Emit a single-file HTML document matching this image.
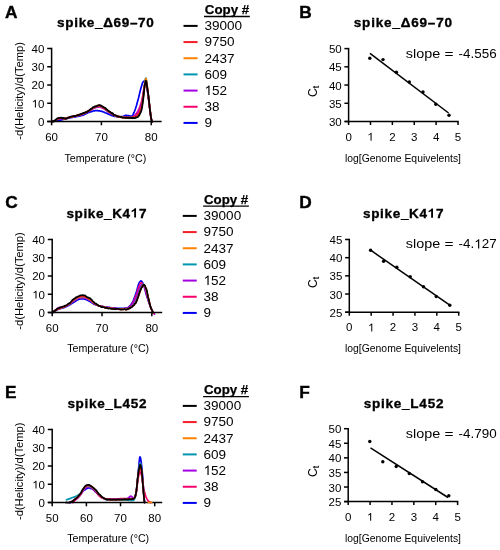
<!DOCTYPE html><html><head><meta charset="utf-8"><style>html,body{margin:0;padding:0;background:#fff;}svg{display:block;will-change:transform;}</style></head><body>
<svg width="500" height="550" viewBox="0 0 500 550" font-family='"Liberation Sans", sans-serif' fill="#000">
<rect width="500" height="550" fill="#fff"/>
<text x="4.90" y="18.00" font-size="17.3" font-weight="bold" text-anchor="start" stroke="#000" stroke-width="0.4">A</text>
<text x="57.10 65.28 74.20 78.63 86.81 95.00 103.18 113.56 121.74 129.93 138.11 146.29" y="27.00" font-size="13.5" font-weight="bold" stroke="#000" stroke-width="0.35">spike_Δ69–70</text>
<path d="M53.0,121.6 L53.5,121.5 L54.0,121.4 L54.5,121.3 L55.0,121.2 L55.5,121.1 L56.0,121.0 L56.5,120.9 L57.0,120.8 L57.5,120.7 L58.0,120.6 L58.5,120.5 L59.0,120.4 L59.5,120.3 L60.0,120.2 L60.5,120.1 L61.0,120.0 L61.5,119.9 L62.0,119.7 L62.5,119.6 L63.0,119.5 L63.5,119.4 L64.0,119.3 L64.5,119.1 L65.0,119.0 L65.5,118.9 L66.0,118.8 L66.5,118.6 L67.0,118.5 L67.5,118.4 L68.0,118.3 L68.5,118.1 L69.0,118.0 L69.5,117.9 L70.0,117.8 L70.5,117.7 L71.0,117.6 L71.5,117.5 L72.0,117.4 L72.5,117.3 L73.0,117.2 L73.5,117.1 L74.0,117.0 L74.5,116.9 L75.0,116.9 L75.5,116.8 L76.0,116.7 L76.5,116.6 L77.0,116.5 L77.5,116.4 L78.0,116.3 L78.5,116.2 L79.0,116.1 L79.5,116.0 L80.0,115.9 L80.5,115.8 L81.0,115.7 L81.5,115.5 L82.0,115.4 L82.5,115.2 L83.0,115.1 L83.5,114.9 L84.0,114.7 L84.5,114.4 L85.0,114.2 L85.5,114.0 L86.0,113.7 L86.5,113.5 L87.0,113.2 L87.5,113.0 L88.0,112.7 L88.5,112.5 L89.0,112.3 L89.5,112.2 L90.0,112.0 L90.5,111.9 L91.0,111.7 L91.5,111.6 L92.0,111.4 L92.5,111.3 L93.0,111.1 L93.5,111.0 L94.0,110.9 L94.5,110.8 L95.0,110.7 L95.5,110.6 L96.0,110.6 L96.5,110.6 L97.0,110.6 L97.5,110.6 L98.0,110.7 L98.5,110.8 L99.0,110.8 L99.5,110.9 L100.0,111.0 L100.5,111.1 L101.0,111.2 L101.5,111.3 L102.0,111.4 L102.5,111.6 L103.0,111.8 L103.5,112.0 L104.0,112.2 L104.5,112.4 L105.0,112.6 L105.5,112.8 L106.0,113.0 L106.5,113.2 L107.0,113.4 L107.5,113.6 L108.0,113.9 L108.5,114.1 L109.0,114.3 L109.5,114.6 L110.0,114.8 L110.5,115.0 L111.0,115.2 L111.5,115.5 L112.0,115.6 L112.5,115.8 L113.0,116.0 L113.5,116.1 L114.0,116.2 L114.5,116.3 L115.0,116.4 L115.5,116.5 L116.0,116.5 L116.5,116.6 L117.0,116.7 L117.5,116.7 L118.0,116.8 L118.5,116.8 L119.0,116.9 L119.5,116.9 L120.0,116.9 L120.5,116.9 L121.0,116.8 L121.5,116.7 L122.0,116.6 L122.5,116.5 L123.0,116.4 L123.5,116.2 L124.0,116.0 L124.5,115.7 L125.0,115.5 L125.5,115.4 L126.0,115.4 L126.5,115.4 L127.0,115.5 L127.5,115.5 L128.0,115.6 L128.5,115.7 L129.0,115.8 L129.5,115.9 L130.0,116.0 L130.5,116.0 L131.0,116.0 L131.5,116.0 L132.0,116.0 L132.5,115.6 L133.0,114.6 L133.5,113.5 L134.0,112.5 L134.5,111.3 L135.0,110.0 L135.5,108.6 L136.0,107.0 L136.5,105.4 L137.0,103.6 L137.5,101.8 L138.0,100.0 L138.5,98.1 L139.0,96.0 L139.5,93.9 L140.0,91.8 L140.5,89.8 L141.0,88.0 L141.5,86.2 L142.0,84.4 L142.5,82.9 L143.0,82.0 L143.5,81.5 L144.0,81.1 L144.5,81.0 L145.0,81.3 L145.5,82.2 L146.0,83.5 L146.5,85.0 L147.0,87.5 L147.5,91.2 L148.0,95.0 L148.5,98.7 L149.0,102.5 L149.5,106.3 L150.0,110.0 L150.5,113.9 L151.0,117.6 L151.5,120.0 L152.0,121.1 L152.5,121.6" fill="none" stroke="#0000f0" stroke-width="1.7" stroke-linejoin="round" stroke-linecap="round"/>
<path d="M52.0,121.6 L52.5,121.5 L53.0,121.4 L53.5,121.3 L54.0,121.1 L54.5,120.9 L55.0,120.7 L55.5,120.4 L56.0,120.0 L56.5,119.7 L57.0,119.3 L57.5,119.1 L58.0,119.0 L58.5,118.9 L59.0,118.8 L59.5,118.7 L60.0,118.6 L60.5,118.5 L61.0,118.5 L61.5,118.4 L62.0,118.4 L62.5,118.4 L63.0,118.5 L63.5,118.7 L64.0,118.8 L64.5,118.9 L65.0,118.9 L65.5,118.7 L66.0,118.6 L66.5,118.4 L67.0,118.2 L67.5,118.0 L68.0,117.8 L68.5,117.7 L69.0,117.5 L69.5,117.4 L70.0,117.3 L70.5,117.2 L71.0,117.1 L71.5,117.0 L72.0,116.9 L72.5,116.8 L73.0,116.7 L73.5,116.6 L74.0,116.5 L74.5,116.3 L75.0,116.2 L75.5,116.1 L76.0,116.0 L76.5,115.8 L77.0,115.7 L77.5,115.6 L78.0,115.5 L78.5,115.3 L79.0,115.2 L79.5,115.0 L80.0,114.9 L80.5,114.8 L81.0,114.6 L81.5,114.4 L82.0,114.3 L82.5,114.1 L83.0,113.9 L83.5,113.7 L84.0,113.5 L84.5,113.3 L85.0,113.1 L85.5,112.9 L86.0,112.7 L86.5,112.4 L87.0,112.1 L87.5,111.9 L88.0,111.6 L88.5,111.3 L89.0,111.0 L89.5,110.7 L90.0,110.5 L90.5,110.2 L91.0,109.9 L91.5,109.6 L92.0,109.3 L92.5,109.0 L93.0,108.7 L93.5,108.4 L94.0,108.2 L94.5,108.0 L95.0,107.8 L95.5,107.6 L96.0,107.4 L96.5,107.3 L97.0,107.1 L97.5,107.0 L98.0,107.0 L98.5,106.9 L99.0,107.0 L99.5,107.0 L100.0,107.1 L100.5,107.3 L101.0,107.4 L101.5,107.6 L102.0,107.8 L102.5,108.0 L103.0,108.2 L103.5,108.5 L104.0,108.7 L104.5,109.1 L105.0,109.4 L105.5,109.7 L106.0,110.1 L106.5,110.4 L107.0,110.8 L107.5,111.2 L108.0,111.5 L108.5,111.9 L109.0,112.2 L109.5,112.5 L110.0,112.8 L110.5,113.1 L111.0,113.4 L111.5,113.7 L112.0,114.0 L112.5,114.3 L113.0,114.6 L113.5,114.9 L114.0,115.1 L114.5,115.4 L115.0,115.6 L115.5,115.8 L116.0,116.0 L116.5,116.2 L117.0,116.3 L117.5,116.4 L118.0,116.5 L118.5,116.7 L119.0,116.8 L119.5,116.9 L120.0,117.0 L120.5,117.0 L121.0,117.1 L121.5,117.1 L122.0,117.2 L122.5,117.2 L123.0,117.2 L123.5,117.2 L124.0,117.1 L124.5,117.1 L125.0,117.0 L125.5,117.0 L126.0,117.0 L126.5,117.1 L127.0,117.1 L127.5,117.1 L128.0,117.1 L128.5,117.2 L129.0,117.2 L129.5,117.3 L130.0,117.3 L130.5,117.3 L131.0,117.3 L131.5,117.3 L132.0,117.3 L132.5,117.2 L133.0,116.8 L133.5,116.4 L134.0,116.0 L134.5,115.6 L135.0,115.1 L135.5,114.5 L136.0,113.9 L136.5,113.3 L137.0,112.5 L137.5,111.8 L138.0,111.0 L138.5,110.0 L139.0,108.9 L139.5,107.6 L140.0,106.3 L140.5,104.8 L141.0,103.3 L141.5,101.5 L142.0,99.5 L142.5,96.8 L143.0,93.9 L143.5,91.2 L144.0,88.0 L144.5,85.1 L145.0,83.2 L145.5,81.8 L146.0,81.8 L146.5,83.5 L147.0,86.5 L147.5,90.0 L148.0,93.7 L148.5,97.6 L149.0,101.7 L149.5,106.0 L150.0,110.0 L150.5,114.0 L151.0,117.7 L151.5,120.0 L152.0,121.1 L152.5,121.6" fill="none" stroke="#f5006e" stroke-width="1.7" stroke-linejoin="round" stroke-linecap="round"/>
<path d="M52.0,121.5 L52.5,121.3 L53.0,121.3 L53.5,121.3 L54.0,121.2 L54.5,120.9 L55.0,120.6 L55.5,120.3 L56.0,120.1 L56.5,119.8 L57.0,119.3 L57.5,118.8 L58.0,118.8 L58.5,118.9 L59.0,118.7 L59.5,118.4 L60.0,118.4 L60.5,118.3 L61.0,118.2 L61.5,118.2 L62.0,118.2 L62.5,118.3 L63.0,118.4 L63.5,118.6 L64.0,118.8 L64.5,118.9 L65.0,118.7 L65.5,118.6 L66.0,118.4 L66.5,118.2 L67.0,118.0 L67.5,117.9 L68.0,117.7 L68.5,117.5 L69.0,117.4 L69.5,117.2 L70.0,117.1 L70.5,117.0 L71.0,117.0 L71.5,116.9 L72.0,116.9 L72.5,116.8 L73.0,116.5 L73.5,116.4 L74.0,116.3 L74.5,116.2 L75.0,116.1 L75.5,115.8 L76.0,115.8 L76.5,115.8 L77.0,115.7 L77.5,115.5 L78.0,115.4 L78.5,115.2 L79.0,115.0 L79.5,114.9 L80.0,115.0 L80.5,114.9 L81.0,114.8 L81.5,114.6 L82.0,114.4 L82.5,114.1 L83.0,113.8 L83.5,113.7 L84.0,113.6 L84.5,113.3 L85.0,113.0 L85.5,112.9 L86.0,112.6 L86.5,112.3 L87.0,112.0 L87.5,111.8 L88.0,111.5 L88.5,111.2 L89.0,110.9 L89.5,110.5 L90.0,110.1 L90.5,109.9 L91.0,109.8 L91.5,109.4 L92.0,109.0 L92.5,108.7 L93.0,108.5 L93.5,108.1 L94.0,107.8 L94.5,107.7 L95.0,107.5 L95.5,107.3 L96.0,107.2 L96.5,107.0 L97.0,106.9 L97.5,106.9 L98.0,106.7 L98.5,106.4 L99.0,106.4 L99.5,106.6 L100.0,106.8 L100.5,107.0 L101.0,107.1 L101.5,107.2 L102.0,107.4 L102.5,107.7 L103.0,107.9 L103.5,108.2 L104.0,108.6 L104.5,109.0 L105.0,109.2 L105.5,109.5 L106.0,110.0 L106.5,110.3 L107.0,110.6 L107.5,111.0 L108.0,111.4 L108.5,111.6 L109.0,111.9 L109.5,112.2 L110.0,112.7 L110.5,113.1 L111.0,113.3 L111.5,113.7 L112.0,114.1 L112.5,114.2 L113.0,114.5 L113.5,114.7 L114.0,114.9 L114.5,115.1 L115.0,115.5 L115.5,115.8 L116.0,115.9 L116.5,116.1 L117.0,116.4 L117.5,116.5 L118.0,116.7 L118.5,116.8 L119.0,116.9 L119.5,117.1 L120.0,117.1 L120.5,117.1 L121.0,117.1 L121.5,117.1 L122.0,117.2 L122.5,117.3 L123.0,117.5 L123.5,117.5 L124.0,117.3 L124.5,117.2 L125.0,117.4 L125.5,117.4 L126.0,117.2 L126.5,117.3 L127.0,117.3 L127.5,117.1 L128.0,117.2 L128.5,117.4 L129.0,117.5 L129.5,117.5 L130.0,117.4 L130.5,117.4 L131.0,117.4 L131.5,117.4 L132.0,117.5 L132.5,117.5 L133.0,117.2 L133.5,116.7 L134.0,116.4 L134.5,116.1 L135.0,115.7 L135.5,115.2 L136.0,114.9 L136.5,114.6 L137.0,114.0 L137.5,113.3 L138.0,112.7 L138.5,111.9 L139.0,110.6 L139.5,109.5 L140.0,108.4 L140.5,107.2 L141.0,105.6 L141.5,103.8 L142.0,101.8 L142.5,99.2 L143.0,96.1 L143.5,92.6 L144.0,89.0 L144.5,85.9 L145.0,83.5 L145.5,81.7 L146.0,81.5 L146.5,83.4 L147.0,86.5 L147.5,89.8 L148.0,93.5 L148.5,97.4 L149.0,101.8 L149.5,106.2 L150.0,110.0 L150.5,113.8 L151.0,117.6 L151.5,120.1 L152.0,121.0 L152.5,121.4" fill="none" stroke="#a400e4" stroke-width="1.7" stroke-linejoin="round" stroke-linecap="round"/>
<path d="M52.0,121.7 L52.5,121.4 L53.0,121.3 L53.5,121.1 L54.0,120.9 L54.5,120.7 L55.0,120.4 L55.5,120.1 L56.0,119.9 L56.5,119.6 L57.0,119.1 L57.5,118.7 L58.0,118.5 L58.5,118.3 L59.0,118.2 L59.5,118.2 L60.0,118.2 L60.5,118.2 L61.0,118.2 L61.5,118.1 L62.0,118.1 L62.5,118.3 L63.0,118.4 L63.5,118.4 L64.0,118.7 L64.5,119.0 L65.0,119.0 L65.5,118.8 L66.0,118.5 L66.5,118.4 L67.0,118.0 L67.5,117.8 L68.0,117.8 L68.5,117.6 L69.0,117.5 L69.5,117.2 L70.0,117.0 L70.5,117.0 L71.0,116.8 L71.5,116.7 L72.0,116.7 L72.5,116.7 L73.0,116.5 L73.5,116.3 L74.0,116.2 L74.5,116.2 L75.0,116.2 L75.5,116.1 L76.0,115.9 L76.5,115.8 L77.0,115.5 L77.5,115.3 L78.0,115.3 L78.5,115.2 L79.0,114.9 L79.5,114.7 L80.0,114.5 L80.5,114.3 L81.0,114.3 L81.5,114.2 L82.0,113.9 L82.5,113.7 L83.0,113.6 L83.5,113.4 L84.0,113.0 L84.5,112.9 L85.0,112.9 L85.5,112.7 L86.0,112.2 L86.5,112.0 L87.0,111.8 L87.5,111.6 L88.0,111.3 L88.5,111.0 L89.0,110.6 L89.5,110.3 L90.0,110.2 L90.5,109.8 L91.0,109.3 L91.5,109.0 L92.0,108.9 L92.5,108.6 L93.0,108.2 L93.5,107.9 L94.0,107.5 L94.5,107.1 L95.0,106.9 L95.5,106.8 L96.0,106.6 L96.5,106.3 L97.0,106.1 L97.5,106.1 L98.0,106.1 L98.5,106.0 L99.0,105.8 L99.5,105.8 L100.0,106.1 L100.5,106.4 L101.0,106.6 L101.5,106.7 L102.0,106.9 L102.5,107.1 L103.0,107.3 L103.5,107.6 L104.0,107.8 L104.5,108.2 L105.0,108.6 L105.5,109.0 L106.0,109.5 L106.5,110.1 L107.0,110.5 L107.5,110.6 L108.0,110.8 L108.5,111.1 L109.0,111.6 L109.5,111.9 L110.0,112.1 L110.5,112.7 L111.0,113.1 L111.5,113.2 L112.0,113.4 L112.5,113.8 L113.0,114.3 L113.5,114.7 L114.0,115.1 L114.5,115.3 L115.0,115.5 L115.5,115.8 L116.0,116.1 L116.5,116.3 L117.0,116.3 L117.5,116.3 L118.0,116.4 L118.5,116.6 L119.0,116.9 L119.5,117.0 L120.0,116.9 L120.5,117.0 L121.0,117.2 L121.5,117.2 L122.0,117.2 L122.5,117.5 L123.0,117.7 L123.5,117.6 L124.0,117.4 L124.5,117.3 L125.0,117.4 L125.5,117.6 L126.0,117.7 L126.5,117.7 L127.0,117.7 L127.5,117.7 L128.0,117.6 L128.5,117.5 L129.0,117.6 L129.5,117.7 L130.0,117.7 L130.5,117.7 L131.0,117.7 L131.5,117.8 L132.0,117.8 L132.5,117.7 L133.0,117.6 L133.5,117.6 L134.0,117.5 L134.5,117.3 L135.0,116.9 L135.5,116.7 L136.0,116.5 L136.5,116.3 L137.0,116.1 L137.5,115.7 L138.0,115.3 L138.5,114.7 L139.0,113.9 L139.5,112.9 L140.0,111.8 L140.5,110.6 L141.0,109.2 L141.5,107.6 L142.0,105.5 L142.5,102.4 L143.0,98.5 L143.5,94.6 L144.0,90.0 L144.5,85.4 L145.0,81.6 L145.5,78.6 L146.0,78.1 L146.5,80.6 L147.0,84.7 L147.5,88.8 L148.0,92.9 L148.5,96.9 L149.0,101.2 L149.5,105.7 L150.0,110.0 L150.5,114.1 L151.0,117.8 L151.5,120.2 L152.0,121.3 L152.5,121.7" fill="none" stroke="#0096b0" stroke-width="1.7" stroke-linejoin="round" stroke-linecap="round"/>
<path d="M52.0,121.5 L52.5,121.5 L53.0,121.6 L53.5,121.3 L54.0,120.9 L54.5,120.7 L55.0,120.5 L55.5,120.1 L56.0,119.6 L56.5,119.2 L57.0,119.0 L57.5,118.8 L58.0,118.6 L58.5,118.4 L59.0,118.3 L59.5,118.2 L60.0,118.1 L60.5,118.1 L61.0,118.0 L61.5,117.8 L62.0,117.8 L62.5,117.9 L63.0,118.2 L63.5,118.5 L64.0,118.7 L64.5,118.7 L65.0,118.7 L65.5,118.7 L66.0,118.5 L66.5,118.1 L67.0,117.9 L67.5,117.8 L68.0,117.6 L68.5,117.5 L69.0,117.5 L69.5,117.4 L70.0,117.2 L70.5,116.9 L71.0,116.8 L71.5,116.8 L72.0,116.8 L72.5,116.7 L73.0,116.4 L73.5,116.3 L74.0,116.1 L74.5,116.0 L75.0,115.9 L75.5,116.0 L76.0,115.9 L76.5,115.6 L77.0,115.4 L77.5,115.3 L78.0,115.1 L78.5,115.0 L79.0,114.9 L79.5,114.8 L80.0,114.6 L80.5,114.5 L81.0,114.3 L81.5,114.1 L82.0,114.1 L82.5,113.9 L83.0,113.7 L83.5,113.5 L84.0,113.2 L84.5,113.0 L85.0,112.8 L85.5,112.6 L86.0,112.2 L86.5,112.0 L87.0,111.9 L87.5,111.5 L88.0,111.2 L88.5,111.0 L89.0,110.7 L89.5,110.3 L90.0,109.9 L90.5,109.5 L91.0,109.0 L91.5,108.7 L92.0,108.4 L92.5,108.3 L93.0,108.1 L93.5,107.8 L94.0,107.4 L94.5,107.1 L95.0,106.8 L95.5,106.5 L96.0,106.2 L96.5,106.0 L97.0,105.8 L97.5,105.8 L98.0,105.7 L98.5,105.7 L99.0,105.8 L99.5,105.9 L100.0,106.0 L100.5,106.2 L101.0,106.3 L101.5,106.5 L102.0,106.6 L102.5,106.9 L103.0,107.2 L103.5,107.5 L104.0,107.8 L104.5,108.1 L105.0,108.4 L105.5,108.7 L106.0,109.1 L106.5,109.6 L107.0,110.1 L107.5,110.4 L108.0,110.8 L108.5,111.2 L109.0,111.5 L109.5,112.0 L110.0,112.2 L110.5,112.5 L111.0,112.8 L111.5,113.1 L112.0,113.6 L112.5,113.9 L113.0,114.3 L113.5,114.8 L114.0,115.1 L114.5,115.2 L115.0,115.5 L115.5,115.8 L116.0,116.0 L116.5,116.1 L117.0,116.2 L117.5,116.5 L118.0,116.6 L118.5,116.7 L119.0,116.8 L119.5,116.7 L120.0,116.7 L120.5,116.8 L121.0,117.1 L121.5,117.3 L122.0,117.4 L122.5,117.5 L123.0,117.6 L123.5,117.6 L124.0,117.6 L124.5,117.6 L125.0,117.5 L125.5,117.5 L126.0,117.7 L126.5,117.8 L127.0,117.8 L127.5,117.7 L128.0,117.7 L128.5,117.7 L129.0,117.7 L129.5,117.8 L130.0,117.8 L130.5,117.8 L131.0,117.8 L131.5,117.8 L132.0,117.7 L132.5,117.8 L133.0,117.8 L133.5,117.7 L134.0,117.6 L134.5,117.3 L135.0,116.8 L135.5,116.8 L136.0,116.9 L136.5,116.6 L137.0,116.1 L137.5,115.8 L138.0,115.6 L138.5,115.1 L139.0,114.3 L139.5,113.4 L140.0,112.4 L140.5,111.1 L141.0,109.6 L141.5,107.9 L142.0,105.7 L142.5,102.6 L143.0,98.9 L143.5,94.9 L144.0,90.2 L144.5,85.9 L145.0,82.4 L145.5,79.3 L146.0,78.5 L146.5,80.7 L147.0,84.6 L147.5,88.7 L148.0,92.8 L148.5,97.0 L149.0,101.2 L149.5,105.8 L150.0,110.1 L150.5,114.2 L151.0,117.8 L151.5,120.0 L152.0,121.1 L152.5,121.6" fill="none" stroke="#ff8200" stroke-width="1.7" stroke-linejoin="round" stroke-linecap="round"/>
<path d="M52.0,121.6 L52.5,121.4 L53.0,121.1 L53.5,120.9 L54.0,121.2 L54.5,121.1 L55.0,120.7 L55.5,120.3 L56.0,119.8 L56.5,119.3 L57.0,119.0 L57.5,118.7 L58.0,118.4 L58.5,118.3 L59.0,118.3 L59.5,118.3 L60.0,118.2 L60.5,118.1 L61.0,118.0 L61.5,118.0 L62.0,118.1 L62.5,118.2 L63.0,118.3 L63.5,118.5 L64.0,118.6 L64.5,119.0 L65.0,119.1 L65.5,118.5 L66.0,118.0 L66.5,118.0 L67.0,118.1 L67.5,118.0 L68.0,117.9 L68.5,117.7 L69.0,117.5 L69.5,117.3 L70.0,117.2 L70.5,117.1 L71.0,116.8 L71.5,116.7 L72.0,116.9 L72.5,116.9 L73.0,116.5 L73.5,116.1 L74.0,116.2 L74.5,116.2 L75.0,116.2 L75.5,115.9 L76.0,115.7 L76.5,115.7 L77.0,115.6 L77.5,115.2 L78.0,115.2 L78.5,115.3 L79.0,115.1 L79.5,115.1 L80.0,115.1 L80.5,114.7 L81.0,114.2 L81.5,114.0 L82.0,114.0 L82.5,113.8 L83.0,113.6 L83.5,113.4 L84.0,113.2 L84.5,112.8 L85.0,112.3 L85.5,112.2 L86.0,112.4 L86.5,112.3 L87.0,112.1 L87.5,111.6 L88.0,111.2 L88.5,110.9 L89.0,110.6 L89.5,110.1 L90.0,109.9 L90.5,109.9 L91.0,109.6 L91.5,109.1 L92.0,108.6 L92.5,108.3 L93.0,108.1 L93.5,107.7 L94.0,107.3 L94.5,107.0 L95.0,106.8 L95.5,106.8 L96.0,106.6 L96.5,106.4 L97.0,106.3 L97.5,106.0 L98.0,105.8 L98.5,105.7 L99.0,105.8 L99.5,105.9 L100.0,105.9 L100.5,106.0 L101.0,106.1 L101.5,106.3 L102.0,106.4 L102.5,106.9 L103.0,107.3 L103.5,107.7 L104.0,108.1 L104.5,108.5 L105.0,108.7 L105.5,108.9 L106.0,109.4 L106.5,109.7 L107.0,110.0 L107.5,110.4 L108.0,110.7 L108.5,111.0 L109.0,111.5 L109.5,111.9 L110.0,112.2 L110.5,112.8 L111.0,113.2 L111.5,113.3 L112.0,113.5 L112.5,113.8 L113.0,114.3 L113.5,114.7 L114.0,115.0 L114.5,115.0 L115.0,115.2 L115.5,115.4 L116.0,115.5 L116.5,115.8 L117.0,116.2 L117.5,116.5 L118.0,116.7 L118.5,116.6 L119.0,116.7 L119.5,117.0 L120.0,117.2 L120.5,117.3 L121.0,117.2 L121.5,117.1 L122.0,117.1 L122.5,117.3 L123.0,117.4 L123.5,117.4 L124.0,117.3 L124.5,117.4 L125.0,117.5 L125.5,117.7 L126.0,117.7 L126.5,117.6 L127.0,117.5 L127.5,117.5 L128.0,117.5 L128.5,117.5 L129.0,117.6 L129.5,117.7 L130.0,117.8 L130.5,117.9 L131.0,117.9 L131.5,117.6 L132.0,117.4 L132.5,117.4 L133.0,117.2 L133.5,117.0 L134.0,117.0 L134.5,116.9 L135.0,116.6 L135.5,116.5 L136.0,116.2 L136.5,115.7 L137.0,115.2 L137.5,114.8 L138.0,114.3 L138.5,113.6 L139.0,112.9 L139.5,111.8 L140.0,110.4 L140.5,109.2 L141.0,107.9 L141.5,106.4 L142.0,104.2 L142.5,100.9 L143.0,97.4 L143.5,94.1 L144.0,90.2 L144.5,86.6 L145.0,84.0 L145.5,81.8 L146.0,81.2 L146.5,82.8 L147.0,86.2 L147.5,89.7 L148.0,93.3 L148.5,97.2 L149.0,101.7 L149.5,106.3 L150.0,110.1 L150.5,113.9 L151.0,117.7 L151.5,119.9 L152.0,121.0 L152.5,121.6" fill="none" stroke="#f41e28" stroke-width="1.7" stroke-linejoin="round" stroke-linecap="round"/>
<path d="M51.8,121.6 L52.3,121.6 L52.8,121.4 L53.3,121.1 L53.8,121.1 L54.3,120.9 L54.8,120.6 L55.3,120.4 L55.8,120.0 L56.3,119.4 L56.8,118.9 L57.3,118.5 L57.8,118.3 L58.3,118.1 L58.8,118.1 L59.3,118.1 L59.8,118.0 L60.3,117.8 L60.8,117.7 L61.3,117.7 L61.8,117.8 L62.3,117.9 L62.8,118.3 L63.3,118.3 L63.8,118.0 L64.3,118.1 L64.8,118.6 L65.3,118.7 L65.8,118.6 L66.3,118.6 L66.8,118.4 L67.3,117.8 L67.8,117.7 L68.3,117.9 L68.8,117.7 L69.3,117.4 L69.8,117.0 L70.3,116.7 L70.8,116.8 L71.3,116.7 L71.8,116.4 L72.3,116.4 L72.8,116.3 L73.3,116.2 L73.8,116.2 L74.3,116.1 L74.8,116.0 L75.3,115.8 L75.8,115.9 L76.3,115.8 L76.8,115.5 L77.3,115.2 L77.8,115.2 L78.3,115.1 L78.8,114.9 L79.3,114.7 L79.8,114.6 L80.3,114.3 L80.8,114.0 L81.3,113.9 L81.8,113.9 L82.3,113.7 L82.8,113.3 L83.3,113.1 L83.8,113.0 L84.3,112.9 L84.8,112.8 L85.3,112.5 L85.8,112.1 L86.3,112.1 L86.8,112.0 L87.3,111.5 L87.8,111.1 L88.3,111.0 L88.8,110.8 L89.3,110.4 L89.8,109.8 L90.3,109.3 L90.8,109.1 L91.3,108.9 L91.8,108.6 L92.3,108.1 L92.8,107.4 L93.3,107.2 L93.8,107.2 L94.3,107.0 L94.8,106.5 L95.3,106.4 L95.8,106.3 L96.3,106.1 L96.8,106.0 L97.3,105.7 L97.8,105.4 L98.3,105.4 L98.8,105.3 L99.3,105.0 L99.8,105.2 L100.3,105.4 L100.8,105.5 L101.3,105.8 L101.8,106.1 L102.3,106.5 L102.8,106.7 L103.3,107.1 L103.8,107.4 L104.3,107.6 L104.8,107.6 L105.3,108.0 L105.8,108.8 L106.3,109.1 L106.8,109.4 L107.3,109.9 L107.8,110.4 L108.3,110.9 L108.8,111.2 L109.3,111.4 L109.8,111.7 L110.3,112.1 L110.8,112.4 L111.3,113.0 L111.8,113.4 L112.3,113.2 L112.8,113.4 L113.3,114.4 L113.8,115.0 L114.3,114.8 L114.8,114.9 L115.3,115.3 L115.8,115.5 L116.3,115.7 L116.8,116.0 L117.3,116.3 L117.8,116.4 L118.3,116.5 L118.8,116.6 L119.3,116.6 L119.8,116.7 L120.3,116.9 L120.8,117.0 L121.3,117.0 L121.8,117.2 L122.3,117.6 L122.8,117.7 L123.3,117.7 L123.8,117.7 L124.3,117.7 L124.8,117.7 L125.3,117.9 L125.8,117.8 L126.3,117.7 L126.8,117.9 L127.3,117.8 L127.8,117.6 L128.3,117.6 L128.8,117.9 L129.3,118.1 L129.8,117.9 L130.3,117.7 L130.8,117.6 L131.3,117.9 L131.8,118.1 L132.3,118.0 L132.8,117.9 L133.3,118.0 L133.8,118.1 L134.3,118.2 L134.8,118.2 L135.3,117.9 L135.8,117.5 L136.3,117.5 L136.8,117.4 L137.3,117.2 L137.8,116.9 L138.3,116.5 L138.8,115.8 L139.3,115.2 L139.8,114.2 L140.3,113.2 L140.8,112.2 L141.3,110.8 L141.8,108.7 L142.3,105.7 L142.8,102.1 L143.3,98.5 L143.8,93.9 L144.3,88.7 L144.8,85.2 L145.3,82.4 L145.8,80.6 L146.3,81.6 L146.8,84.7 L147.3,88.3 L147.8,91.5 L148.3,95.0 L148.8,99.2 L149.3,103.9 L149.8,108.5 L150.3,112.5 L150.8,116.3 L151.3,119.3 L151.8,121.1 L152.3,121.6" fill="none" stroke="#000000" stroke-width="1.8" stroke-linejoin="round" stroke-linecap="round"/>
<line x1="51.60" y1="47.75" x2="51.60" y2="122.25" stroke="#000" stroke-width="1.5"/>
<line x1="47.20" y1="121.50" x2="161.60" y2="121.50" stroke="#000" stroke-width="1.5"/>
<line x1="47.20" y1="121.50" x2="51.60" y2="121.50" stroke="#000" stroke-width="1.5"/>
<text x="38.00" y="125.80" font-size="11.5" font-weight="normal">0</text>
<line x1="47.20" y1="103.25" x2="51.60" y2="103.25" stroke="#000" stroke-width="1.5"/>
<path transform="translate(31.61,107.55) scale(0.00562,-0.00562)" d="M583,0 L583,1141 Q480,1045 223,925 L223,1096 Q390,1170 530,1300 Q600,1370 650,1409 L763,1409 L763,0 Z"/>
<text x="38.00" y="107.55" font-size="11.5" font-weight="normal">0</text>
<line x1="47.20" y1="85.00" x2="51.60" y2="85.00" stroke="#000" stroke-width="1.5"/>
<text x="31.61 38.00" y="89.30" font-size="11.5" font-weight="normal">20</text>
<line x1="47.20" y1="66.75" x2="51.60" y2="66.75" stroke="#000" stroke-width="1.5"/>
<text x="31.61 38.00" y="71.05" font-size="11.5" font-weight="normal">30</text>
<line x1="47.20" y1="48.50" x2="51.60" y2="48.50" stroke="#000" stroke-width="1.5"/>
<text x="31.61 38.00" y="52.80" font-size="11.5" font-weight="normal">40</text>
<line x1="51.60" y1="121.50" x2="51.60" y2="125.30" stroke="#000" stroke-width="1.5"/>
<text x="45.20 51.60" y="140.50" font-size="11.5" font-weight="normal">60</text>
<line x1="101.40" y1="121.50" x2="101.40" y2="125.30" stroke="#000" stroke-width="1.5"/>
<text x="95.00 101.40" y="140.50" font-size="11.5" font-weight="normal">70</text>
<line x1="151.20" y1="121.50" x2="151.20" y2="125.30" stroke="#000" stroke-width="1.5"/>
<text x="144.80 151.20" y="140.50" font-size="11.5" font-weight="normal">80</text>
<text x="64.40" y="162.20" font-size="11.6" font-weight="normal" text-anchor="start" textLength="82.0" lengthAdjust="spacingAndGlyphs">Temperature (°C)</text>
<text transform="translate(23.4,90.90) rotate(-90)" font-size="11.5" text-anchor="middle" textLength="97.6" lengthAdjust="spacingAndGlyphs">-d(Helicity)/d(Temp)</text>
<text x="204.80" y="14.20" font-size="12.6" font-weight="bold" text-anchor="start" textLength="44.4" lengthAdjust="spacingAndGlyphs" stroke="#000" stroke-width="0.25">Copy #</text>
<line x1="204.00" y1="16.50" x2="249.80" y2="16.50" stroke="#000" stroke-width="1.3"/>
<line x1="183.50" y1="25.90" x2="197.60" y2="25.90" stroke="#000000" stroke-width="2.0"/>
<text x="204.50 212.01 219.52 227.02 234.53" y="30.20" font-size="13.5" font-weight="normal">39000</text>
<line x1="183.50" y1="42.07" x2="197.60" y2="42.07" stroke="#f41e28" stroke-width="2.0"/>
<text x="204.50 212.01 219.52 227.02" y="46.37" font-size="13.5" font-weight="normal">9750</text>
<line x1="183.50" y1="58.24" x2="197.60" y2="58.24" stroke="#ff8200" stroke-width="2.0"/>
<text x="204.50 212.01 219.52 227.02" y="62.54" font-size="13.5" font-weight="normal">2437</text>
<line x1="183.50" y1="74.41" x2="197.60" y2="74.41" stroke="#0096b0" stroke-width="2.0"/>
<text x="204.50 212.01 219.52" y="78.71" font-size="13.5" font-weight="normal">609</text>
<line x1="183.50" y1="90.58" x2="197.60" y2="90.58" stroke="#a400e4" stroke-width="2.0"/>
<path transform="translate(204.50,94.88) scale(0.00659,-0.00659)" d="M583,0 L583,1141 Q480,1045 223,925 L223,1096 Q390,1170 530,1300 Q600,1370 650,1409 L763,1409 L763,0 Z"/>
<text x="212.01 219.52" y="94.88" font-size="13.5" font-weight="normal">52</text>
<line x1="183.50" y1="106.75" x2="197.60" y2="106.75" stroke="#f5006e" stroke-width="2.0"/>
<text x="204.50 212.01" y="111.05" font-size="13.5" font-weight="normal">38</text>
<line x1="183.50" y1="122.92" x2="197.60" y2="122.92" stroke="#0000f0" stroke-width="2.0"/>
<text x="204.50" y="127.22" font-size="13.5" font-weight="normal">9</text>
<text x="5.30" y="207.50" font-size="17.3" font-weight="bold" text-anchor="start" stroke="#000" stroke-width="0.4">C</text>
<path transform="translate(130.75,217.50) scale(0.00659,-0.00659)" d="M521,0 L521,1012 Q380,900 137,812 L137,1055 Q330,1130 470,1260 Q560,1340 590,1409 L802,1409 L802,0 Z" stroke="#000" stroke-width="0.35"/>
<text x="66.40 74.54 83.42 87.80 95.95 104.09 112.23 122.61 138.89" y="217.50" font-size="13.5" font-weight="bold" stroke="#000" stroke-width="0.35">spike_K47</text>
<path d="M53.0,312.6 L53.5,312.2 L54.0,311.9 L54.5,311.5 L55.0,311.2 L55.5,310.8 L56.0,310.5 L56.5,310.2 L57.0,310.0 L57.5,309.7 L58.0,309.5 L58.5,309.3 L59.0,309.1 L59.5,309.0 L60.0,308.8 L60.5,308.7 L61.0,308.5 L61.5,308.4 L62.0,308.3 L62.5,308.1 L63.0,308.0 L63.5,307.8 L64.0,307.6 L64.5,307.5 L65.0,307.3 L65.5,307.0 L66.0,306.8 L66.5,306.6 L67.0,306.3 L67.5,306.1 L68.0,305.8 L68.5,305.6 L69.0,305.3 L69.5,305.0 L70.0,304.7 L70.5,304.4 L71.0,304.1 L71.5,303.8 L72.0,303.4 L72.5,303.1 L73.0,302.8 L73.5,302.5 L74.0,302.2 L74.5,301.9 L75.0,301.6 L75.5,301.3 L76.0,300.9 L76.5,300.6 L77.0,300.3 L77.5,300.0 L78.0,299.7 L78.5,299.5 L79.0,299.3 L79.5,299.1 L80.0,299.0 L80.5,299.0 L81.0,299.0 L81.5,299.0 L82.0,299.0 L82.5,299.0 L83.0,299.0 L83.5,299.0 L84.0,299.0 L84.5,299.1 L85.0,299.2 L85.5,299.4 L86.0,299.5 L86.5,299.8 L87.0,300.0 L87.5,300.3 L88.0,300.5 L88.5,300.8 L89.0,301.1 L89.5,301.3 L90.0,301.6 L90.5,301.9 L91.0,302.2 L91.5,302.5 L92.0,302.9 L92.5,303.2 L93.0,303.5 L93.5,303.9 L94.0,304.2 L94.5,304.4 L95.0,304.6 L95.5,304.8 L96.0,304.9 L96.5,305.1 L97.0,305.2 L97.5,305.3 L98.0,305.5 L98.5,305.6 L99.0,305.7 L99.5,305.8 L100.0,305.9 L100.5,306.0 L101.0,306.2 L101.5,306.3 L102.0,306.4 L102.5,306.4 L103.0,306.5 L103.5,306.6 L104.0,306.7 L104.5,306.8 L105.0,306.9 L105.5,306.9 L106.0,307.0 L106.5,307.1 L107.0,307.1 L107.5,307.2 L108.0,307.3 L108.5,307.3 L109.0,307.4 L109.5,307.4 L110.0,307.5 L110.5,307.6 L111.0,307.6 L111.5,307.7 L112.0,307.7 L112.5,307.8 L113.0,307.8 L113.5,307.9 L114.0,307.9 L114.5,308.0 L115.0,308.0 L115.5,308.1 L116.0,308.1 L116.5,308.2 L117.0,308.2 L117.5,308.2 L118.0,308.3 L118.5,308.3 L119.0,308.3 L119.5,308.3 L120.0,308.3 L120.5,308.3 L121.0,308.3 L121.5,308.3 L122.0,308.3 L122.5,308.3 L123.0,308.3 L123.5,308.2 L124.0,308.2 L124.5,308.2 L125.0,308.2 L125.5,308.1 L126.0,308.1 L126.5,308.0 L127.0,308.0 L127.5,307.8 L128.0,307.4 L128.5,307.0 L129.0,306.5 L129.5,306.1 L130.0,305.6 L130.5,305.1 L131.0,304.5 L131.5,303.8 L132.0,303.0 L132.5,302.0 L133.0,301.0 L133.5,299.9 L134.0,298.6 L134.5,297.3 L135.0,295.9 L135.5,294.4 L136.0,292.9 L136.5,291.4 L137.0,289.6 L137.5,287.7 L138.0,285.9 L138.5,284.3 L139.0,283.2 L139.5,282.4 L140.0,281.6 L140.5,281.1 L141.0,280.9 L141.5,281.1 L142.0,281.7 L142.5,282.5 L143.0,283.4 L143.5,284.5 L144.0,286.1 L144.5,287.9 L145.0,289.9 L145.5,291.9 L146.0,293.8 L146.5,295.4 L147.0,297.0 L147.5,298.5 L148.0,300.0 L148.5,301.5 L149.0,302.9 L149.5,304.3 L150.0,305.6 L150.5,306.8 L151.0,307.9 L151.5,309.0 L152.0,310.0 L152.5,310.9 L153.0,311.8 L153.5,312.6" fill="none" stroke="#0000f0" stroke-width="1.6" stroke-linejoin="round" stroke-linecap="round"/>
<path d="M52.5,312.8 L53.0,312.4 L53.5,312.0 L54.0,311.6 L54.5,311.2 L55.0,310.9 L55.5,310.5 L56.0,310.2 L56.5,309.9 L57.0,309.6 L57.5,309.3 L58.0,309.1 L58.5,308.9 L59.0,308.7 L59.5,308.5 L60.0,308.3 L60.5,308.2 L61.0,308.0 L61.5,307.9 L62.0,307.7 L62.5,307.6 L63.0,307.4 L63.5,307.3 L64.0,307.1 L64.5,306.9 L65.0,306.7 L65.5,306.4 L66.0,306.2 L66.5,305.9 L67.0,305.7 L67.5,305.4 L68.0,305.1 L68.5,304.8 L69.0,304.5 L69.5,304.2 L70.0,303.8 L70.5,303.4 L71.0,303.0 L71.5,302.6 L72.0,302.2 L72.5,301.8 L73.0,301.4 L73.5,301.0 L74.0,300.7 L74.5,300.4 L75.0,300.0 L75.5,299.7 L76.0,299.4 L76.5,299.1 L77.0,298.8 L77.5,298.5 L78.0,298.3 L78.5,298.1 L79.0,297.9 L79.5,297.7 L80.0,297.6 L80.5,297.5 L81.0,297.5 L81.5,297.4 L82.0,297.4 L82.5,297.4 L83.0,297.4 L83.5,297.4 L84.0,297.5 L84.5,297.6 L85.0,297.8 L85.5,297.9 L86.0,298.2 L86.5,298.4 L87.0,298.7 L87.5,298.9 L88.0,299.2 L88.5,299.4 L89.0,299.7 L89.5,300.0 L90.0,300.3 L90.5,300.6 L91.0,300.9 L91.5,301.3 L92.0,301.7 L92.5,302.1 L93.0,302.6 L93.5,303.0 L94.0,303.4 L94.5,303.7 L95.0,304.0 L95.5,304.2 L96.0,304.5 L96.5,304.7 L97.0,304.9 L97.5,305.2 L98.0,305.4 L98.5,305.6 L99.0,305.7 L99.5,305.9 L100.0,306.1 L100.5,306.2 L101.0,306.3 L101.5,306.5 L102.0,306.6 L102.5,306.7 L103.0,306.8 L103.5,306.9 L104.0,307.0 L104.5,307.1 L105.0,307.2 L105.5,307.3 L106.0,307.4 L106.5,307.5 L107.0,307.5 L107.5,307.6 L108.0,307.7 L108.5,307.8 L109.0,307.8 L109.5,307.9 L110.0,307.9 L110.5,308.0 L111.0,308.1 L111.5,308.1 L112.0,308.2 L112.5,308.3 L113.0,308.3 L113.5,308.4 L114.0,308.4 L114.5,308.5 L115.0,308.5 L115.5,308.6 L116.0,308.6 L116.5,308.7 L117.0,308.7 L117.5,308.7 L118.0,308.8 L118.5,308.8 L119.0,308.8 L119.5,308.8 L120.0,308.8 L120.5,308.8 L121.0,308.8 L121.5,308.8 L122.0,308.8 L122.5,308.7 L123.0,308.7 L123.5,308.7 L124.0,308.7 L124.5,308.7 L125.0,308.6 L125.5,308.6 L126.0,308.6 L126.5,308.5 L127.0,308.5 L127.5,308.3 L128.0,308.0 L128.5,307.6 L129.0,307.2 L129.5,306.8 L130.0,306.3 L130.5,305.8 L131.0,305.3 L131.5,304.7 L132.0,304.1 L132.5,303.3 L133.0,302.4 L133.5,301.5 L134.0,300.4 L134.5,299.3 L135.0,298.0 L135.5,296.7 L136.0,295.4 L136.5,294.1 L137.0,292.5 L137.5,290.7 L138.0,288.9 L138.5,287.4 L139.0,286.2 L139.5,285.2 L140.0,284.2 L140.5,283.4 L141.0,282.9 L141.5,282.8 L142.0,283.0 L142.5,283.4 L143.0,283.9 L143.5,284.7 L144.0,285.8 L144.5,287.3 L145.0,288.9 L145.5,290.7 L146.0,292.4 L146.5,294.0 L147.0,295.7 L147.5,297.4 L148.0,299.1 L148.5,300.7 L149.0,302.3 L149.5,303.9 L150.0,305.4 L150.5,306.7 L151.0,307.9 L151.5,309.0 L152.0,310.1 L152.5,311.1 L153.0,312.0 L153.5,312.7 L154.0,313.4 L154.5,314.0" fill="none" stroke="#f5006e" stroke-width="1.6" stroke-linejoin="round" stroke-linecap="round"/>
<path d="M52.5,312.8 L53.0,312.4 L53.5,311.8 L54.0,311.3 L54.5,310.8 L55.0,310.4 L55.5,310.0 L56.0,309.6 L56.5,309.0 L57.0,308.5 L57.5,308.3 L58.0,308.0 L58.5,307.7 L59.0,307.6 L59.5,307.6 L60.0,307.7 L60.5,307.5 L61.0,307.4 L61.5,307.3 L62.0,307.2 L62.5,307.2 L63.0,307.2 L63.5,307.1 L64.0,307.1 L64.5,307.0 L65.0,306.5 L65.5,306.1 L66.0,306.0 L66.5,306.0 L67.0,305.7 L67.5,305.3 L68.0,305.0 L68.5,304.7 L69.0,304.5 L69.5,304.3 L70.0,303.9 L70.5,303.6 L71.0,303.2 L71.5,302.7 L72.0,302.3 L72.5,301.9 L73.0,301.5 L73.5,301.0 L74.0,300.9 L74.5,300.6 L75.0,300.2 L75.5,299.9 L76.0,299.6 L76.5,299.3 L77.0,299.2 L77.5,298.8 L78.0,298.4 L78.5,298.2 L79.0,298.1 L79.5,298.0 L80.0,297.8 L80.5,297.8 L81.0,297.8 L81.5,297.8 L82.0,297.6 L82.5,297.5 L83.0,297.5 L83.5,297.5 L84.0,297.5 L84.5,297.6 L85.0,297.9 L85.5,298.3 L86.0,298.4 L86.5,298.4 L87.0,298.7 L87.5,299.0 L88.0,299.1 L88.5,299.4 L89.0,299.9 L89.5,300.3 L90.0,300.5 L90.5,300.7 L91.0,301.0 L91.5,301.5 L92.0,302.0 L92.5,302.3 L93.0,302.6 L93.5,303.1 L94.0,303.4 L94.5,303.7 L95.0,303.9 L95.5,304.2 L96.0,304.5 L96.5,304.9 L97.0,305.1 L97.5,305.3 L98.0,305.4 L98.5,305.6 L99.0,305.8 L99.5,306.0 L100.0,306.0 L100.5,306.1 L101.0,306.2 L101.5,306.1 L102.0,306.2 L102.5,306.4 L103.0,306.6 L103.5,307.0 L104.0,307.2 L104.5,307.1 L105.0,307.0 L105.5,307.3 L106.0,307.4 L106.5,307.4 L107.0,307.5 L107.5,307.7 L108.0,307.7 L108.5,307.6 L109.0,307.7 L109.5,307.8 L110.0,307.8 L110.5,307.9 L111.0,308.0 L111.5,308.2 L112.0,308.2 L112.5,308.2 L113.0,308.2 L113.5,308.2 L114.0,308.1 L114.5,308.2 L115.0,308.3 L115.5,308.4 L116.0,308.5 L116.5,308.5 L117.0,308.6 L117.5,308.7 L118.0,308.8 L118.5,308.7 L119.0,308.7 L119.5,309.0 L120.0,309.1 L120.5,308.9 L121.0,308.8 L121.5,308.7 L122.0,308.8 L122.5,308.9 L123.0,308.8 L123.5,308.7 L124.0,308.7 L124.5,308.6 L125.0,308.7 L125.5,308.9 L126.0,308.9 L126.5,308.9 L127.0,308.8 L127.5,308.5 L128.0,308.2 L128.5,307.9 L129.0,307.6 L129.5,307.2 L130.0,306.7 L130.5,306.2 L131.0,305.9 L131.5,305.7 L132.0,305.0 L132.5,304.3 L133.0,303.8 L133.5,303.1 L134.0,302.0 L134.5,301.1 L135.0,300.0 L135.5,299.0 L136.0,298.1 L136.5,297.0 L137.0,295.5 L137.5,293.9 L138.0,292.3 L138.5,290.8 L139.0,289.4 L139.5,288.1 L140.0,287.0 L140.5,286.1 L141.0,285.3 L141.5,284.8 L142.0,284.6 L142.5,284.4 L143.0,284.5 L143.5,284.9 L144.0,285.5 L144.5,286.5 L145.0,287.9 L145.5,289.5 L146.0,291.0 L146.5,292.4 L147.0,294.1 L147.5,296.0 L148.0,298.1 L148.5,300.0 L149.0,301.7 L149.5,303.6 L150.0,305.3 L150.5,306.8 L151.0,308.1 L151.5,309.2 L152.0,310.3 L152.5,311.3 L153.0,312.2 L153.5,313.1 L154.0,313.7 L154.5,314.2" fill="none" stroke="#a400e4" stroke-width="1.6" stroke-linejoin="round" stroke-linecap="round"/>
<path d="M52.5,312.7 L53.0,312.3 L53.5,311.9 L54.0,311.5 L54.5,311.1 L55.0,310.7 L55.5,310.4 L56.0,310.0 L56.5,309.7 L57.0,309.4 L57.5,309.2 L58.0,308.9 L58.5,308.7 L59.0,308.5 L59.5,308.3 L60.0,308.1 L60.5,308.0 L61.0,307.8 L61.5,307.7 L62.0,307.5 L62.5,307.4 L63.0,307.2 L63.5,307.0 L64.0,306.8 L64.5,306.6 L65.0,306.4 L65.5,306.1 L66.0,305.9 L66.5,305.6 L67.0,305.4 L67.5,305.1 L68.0,304.8 L68.5,304.5 L69.0,304.2 L69.5,303.8 L70.0,303.4 L70.5,303.0 L71.0,302.6 L71.5,302.1 L72.0,301.6 L72.5,301.2 L73.0,300.7 L73.5,300.3 L74.0,300.0 L74.5,299.7 L75.0,299.3 L75.5,299.0 L76.0,298.7 L76.5,298.4 L77.0,298.2 L77.5,297.9 L78.0,297.7 L78.5,297.5 L79.0,297.3 L79.5,297.1 L80.0,297.0 L80.5,296.9 L81.0,296.8 L81.5,296.7 L82.0,296.7 L82.5,296.7 L83.0,296.7 L83.5,296.7 L84.0,296.8 L84.5,296.9 L85.0,297.1 L85.5,297.3 L86.0,297.6 L86.5,297.8 L87.0,298.1 L87.5,298.3 L88.0,298.6 L88.5,298.8 L89.0,299.1 L89.5,299.4 L90.0,299.6 L90.5,300.0 L91.0,300.4 L91.5,300.8 L92.0,301.2 L92.5,301.7 L93.0,302.1 L93.5,302.6 L94.0,303.0 L94.5,303.4 L95.0,303.7 L95.5,304.0 L96.0,304.3 L96.5,304.5 L97.0,304.8 L97.5,305.1 L98.0,305.3 L98.5,305.5 L99.0,305.8 L99.5,305.9 L100.0,306.1 L100.5,306.3 L101.0,306.4 L101.5,306.5 L102.0,306.7 L102.5,306.8 L103.0,306.9 L103.5,307.0 L104.0,307.1 L104.5,307.2 L105.0,307.4 L105.5,307.4 L106.0,307.5 L106.5,307.6 L107.0,307.7 L107.5,307.8 L108.0,307.9 L108.5,307.9 L109.0,308.0 L109.5,308.1 L110.0,308.2 L110.5,308.2 L111.0,308.3 L111.5,308.4 L112.0,308.4 L112.5,308.5 L113.0,308.6 L113.5,308.6 L114.0,308.7 L114.5,308.7 L115.0,308.8 L115.5,308.8 L116.0,308.9 L116.5,308.9 L117.0,309.0 L117.5,309.0 L118.0,309.1 L118.5,309.1 L119.0,309.1 L119.5,309.1 L120.0,309.1 L120.5,309.1 L121.0,309.1 L121.5,309.1 L122.0,309.2 L122.5,309.2 L123.0,309.2 L123.5,309.2 L124.0,309.2 L124.5,309.2 L125.0,309.2 L125.5,309.2 L126.0,309.2 L126.5,309.2 L127.0,309.2 L127.5,309.1 L128.0,308.9 L128.5,308.6 L129.0,308.3 L129.5,307.9 L130.0,307.5 L130.5,307.2 L131.0,306.9 L131.5,306.5 L132.0,306.2 L132.5,305.8 L133.0,305.3 L133.5,304.7 L134.0,304.1 L134.5,303.4 L135.0,302.6 L135.5,301.8 L136.0,300.9 L136.5,300.0 L137.0,298.8 L137.5,297.4 L138.0,295.9 L138.5,294.4 L139.0,293.0 L139.5,291.6 L140.0,290.1 L140.5,288.6 L141.0,287.3 L141.5,286.3 L142.0,285.5 L142.5,284.7 L143.0,284.2 L143.5,284.1 L144.0,284.5 L144.5,285.3 L145.0,286.5 L145.5,287.8 L146.0,289.2 L146.5,290.7 L147.0,292.7 L147.5,294.8 L148.0,296.9 L148.5,298.9 L149.0,301.0 L149.5,303.0 L150.0,304.9 L150.5,306.5 L151.0,307.9 L151.5,309.2 L152.0,310.4 L152.5,311.5 L153.0,312.3 L153.5,313.0" fill="none" stroke="#0096b0" stroke-width="1.6" stroke-linejoin="round" stroke-linecap="round"/>
<path d="M52.5,312.4 L53.0,311.9 L53.5,311.6 L54.0,311.2 L54.5,310.8 L55.0,310.5 L55.5,310.3 L56.0,310.1 L56.5,309.9 L57.0,309.6 L57.5,309.3 L58.0,308.9 L58.5,308.8 L59.0,308.6 L59.5,308.3 L60.0,308.1 L60.5,308.0 L61.0,307.9 L61.5,307.6 L62.0,307.4 L62.5,307.3 L63.0,307.1 L63.5,306.8 L64.0,306.7 L64.5,306.5 L65.0,306.3 L65.5,306.1 L66.0,305.8 L66.5,305.5 L67.0,305.3 L67.5,304.9 L68.0,304.4 L68.5,304.3 L69.0,304.2 L69.5,303.8 L70.0,303.5 L70.5,303.1 L71.0,302.3 L71.5,301.6 L72.0,301.3 L72.5,301.0 L73.0,300.5 L73.5,299.9 L74.0,299.6 L74.5,299.4 L75.0,299.2 L75.5,299.0 L76.0,298.6 L76.5,298.2 L77.0,297.9 L77.5,297.6 L78.0,297.4 L78.5,297.2 L79.0,297.1 L79.5,297.1 L80.0,297.0 L80.5,296.9 L81.0,297.0 L81.5,296.8 L82.0,296.5 L82.5,296.4 L83.0,296.5 L83.5,296.6 L84.0,296.7 L84.5,296.9 L85.0,297.0 L85.5,297.1 L86.0,297.4 L86.5,297.7 L87.0,298.0 L87.5,298.3 L88.0,298.4 L88.5,298.8 L89.0,299.1 L89.5,299.3 L90.0,299.6 L90.5,300.0 L91.0,300.3 L91.5,300.5 L92.0,301.0 L92.5,301.7 L93.0,302.3 L93.5,302.6 L94.0,303.0 L94.5,303.5 L95.0,303.8 L95.5,303.9 L96.0,304.1 L96.5,304.5 L97.0,304.7 L97.5,304.9 L98.0,305.1 L98.5,305.4 L99.0,305.7 L99.5,305.8 L100.0,306.1 L100.5,306.3 L101.0,306.4 L101.5,306.5 L102.0,306.6 L102.5,306.8 L103.0,306.8 L103.5,306.9 L104.0,307.1 L104.5,307.3 L105.0,307.3 L105.5,307.5 L106.0,307.7 L106.5,307.7 L107.0,307.6 L107.5,307.7 L108.0,307.9 L108.5,308.0 L109.0,308.0 L109.5,308.1 L110.0,308.1 L110.5,308.2 L111.0,308.5 L111.5,308.6 L112.0,308.5 L112.5,308.6 L113.0,308.7 L113.5,308.6 L114.0,308.7 L114.5,308.9 L115.0,309.0 L115.5,309.0 L116.0,309.0 L116.5,309.0 L117.0,309.0 L117.5,309.1 L118.0,309.1 L118.5,309.0 L119.0,309.1 L119.5,309.2 L120.0,309.3 L120.5,309.3 L121.0,309.3 L121.5,309.4 L122.0,309.2 L122.5,309.2 L123.0,309.3 L123.5,309.2 L124.0,309.0 L124.5,309.1 L125.0,309.2 L125.5,309.1 L126.0,309.1 L126.5,309.1 L127.0,309.3 L127.5,309.3 L128.0,309.1 L128.5,308.9 L129.0,308.5 L129.5,308.2 L130.0,307.9 L130.5,307.5 L131.0,307.1 L131.5,306.8 L132.0,306.7 L132.5,306.5 L133.0,305.9 L133.5,305.4 L134.0,304.9 L134.5,304.2 L135.0,303.4 L135.5,302.7 L136.0,301.9 L136.5,301.2 L137.0,300.2 L137.5,298.8 L138.0,297.2 L138.5,295.7 L139.0,294.2 L139.5,292.5 L140.0,291.1 L140.5,289.7 L141.0,288.3 L141.5,287.5 L142.0,286.8 L142.5,286.0 L143.0,285.5 L143.5,285.2 L144.0,285.1 L144.5,285.4 L145.0,286.3 L145.5,287.4 L146.0,288.6 L146.5,290.1 L147.0,292.3 L147.5,294.6 L148.0,296.9 L148.5,298.9 L149.0,300.9 L149.5,302.8 L150.0,304.7 L150.5,306.5 L151.0,308.0 L151.5,309.3 L152.0,310.7 L152.5,311.7 L153.0,312.5 L153.5,313.2" fill="none" stroke="#ff8200" stroke-width="1.6" stroke-linejoin="round" stroke-linecap="round"/>
<path d="M52.5,312.5 L53.0,312.1 L53.5,311.6 L54.0,311.5 L54.5,311.2 L55.0,310.7 L55.5,310.3 L56.0,310.0 L56.5,309.5 L57.0,309.0 L57.5,308.8 L58.0,308.9 L58.5,308.9 L59.0,308.8 L59.5,308.5 L60.0,308.1 L60.5,307.9 L61.0,307.8 L61.5,307.7 L62.0,307.6 L62.5,307.3 L63.0,307.0 L63.5,306.9 L64.0,306.9 L64.5,306.6 L65.0,306.2 L65.5,306.0 L66.0,305.7 L66.5,305.5 L67.0,305.1 L67.5,304.8 L68.0,304.4 L68.5,303.9 L69.0,303.6 L69.5,303.4 L70.0,303.2 L70.5,302.9 L71.0,302.4 L71.5,301.9 L72.0,301.3 L72.5,300.9 L73.0,300.6 L73.5,300.0 L74.0,299.4 L74.5,299.1 L75.0,298.8 L75.5,298.7 L76.0,298.5 L76.5,298.0 L77.0,297.6 L77.5,297.5 L78.0,297.4 L78.5,297.1 L79.0,296.8 L79.5,296.6 L80.0,296.6 L80.5,296.6 L81.0,296.4 L81.5,296.3 L82.0,296.3 L82.5,296.3 L83.0,296.3 L83.5,296.3 L84.0,296.7 L84.5,296.8 L85.0,296.7 L85.5,296.8 L86.0,297.1 L86.5,297.5 L87.0,297.8 L87.5,298.1 L88.0,298.2 L88.5,298.2 L89.0,298.5 L89.5,298.9 L90.0,299.3 L90.5,299.7 L91.0,299.9 L91.5,300.4 L92.0,301.1 L92.5,301.6 L93.0,301.9 L93.5,302.4 L94.0,302.9 L94.5,303.3 L95.0,303.7 L95.5,303.8 L96.0,304.1 L96.5,304.5 L97.0,304.8 L97.5,305.1 L98.0,305.6 L98.5,305.9 L99.0,306.1 L99.5,306.2 L100.0,306.1 L100.5,306.3 L101.0,306.6 L101.5,306.8 L102.0,307.0 L102.5,307.0 L103.0,307.0 L103.5,307.2 L104.0,307.3 L104.5,307.5 L105.0,307.7 L105.5,307.8 L106.0,307.6 L106.5,307.7 L107.0,307.8 L107.5,308.0 L108.0,308.3 L108.5,308.2 L109.0,308.1 L109.5,308.1 L110.0,308.1 L110.5,308.2 L111.0,308.2 L111.5,308.4 L112.0,308.6 L112.5,308.6 L113.0,308.6 L113.5,308.7 L114.0,308.5 L114.5,308.6 L115.0,308.9 L115.5,309.0 L116.0,309.0 L116.5,309.2 L117.0,309.2 L117.5,309.2 L118.0,309.2 L118.5,309.3 L119.0,309.5 L119.5,309.5 L120.0,309.4 L120.5,309.4 L121.0,309.2 L121.5,309.0 L122.0,309.1 L122.5,309.5 L123.0,309.6 L123.5,309.3 L124.0,309.0 L124.5,309.1 L125.0,309.4 L125.5,309.4 L126.0,309.4 L126.5,309.6 L127.0,309.4 L127.5,309.2 L128.0,309.0 L128.5,308.8 L129.0,308.6 L129.5,308.5 L130.0,308.2 L130.5,307.7 L131.0,307.1 L131.5,306.9 L132.0,306.7 L132.5,306.2 L133.0,305.9 L133.5,305.6 L134.0,305.0 L134.5,304.3 L135.0,303.7 L135.5,303.1 L136.0,302.1 L136.5,301.0 L137.0,300.0 L137.5,298.8 L138.0,297.2 L138.5,295.7 L139.0,294.3 L139.5,293.0 L140.0,291.5 L140.5,289.8 L141.0,288.6 L141.5,287.6 L142.0,286.5 L142.5,285.4 L143.0,285.0 L143.5,285.1 L144.0,285.0 L144.5,285.4 L145.0,286.3 L145.5,287.5 L146.0,288.6 L146.5,290.1 L147.0,291.9 L147.5,294.1 L148.0,296.5 L148.5,298.7 L149.0,300.8 L149.5,302.9 L150.0,304.9 L150.5,306.7 L151.0,308.1 L151.5,309.3 L152.0,310.5 L152.5,311.5 L153.0,312.4 L153.5,313.1" fill="none" stroke="#f41e28" stroke-width="1.6" stroke-linejoin="round" stroke-linecap="round"/>
<path d="M52.4,312.3 L52.9,311.9 L53.4,311.6 L53.9,311.3 L54.4,310.9 L54.9,310.6 L55.4,310.4 L55.9,310.1 L56.4,309.6 L56.9,309.1 L57.4,308.7 L57.9,308.4 L58.4,308.3 L58.9,308.1 L59.4,307.7 L59.9,307.6 L60.4,307.4 L60.9,307.2 L61.4,307.2 L61.9,307.1 L62.4,306.7 L62.9,306.5 L63.4,306.4 L63.9,306.5 L64.4,306.1 L64.9,305.6 L65.4,305.6 L65.9,305.7 L66.4,305.5 L66.9,305.1 L67.4,304.5 L67.9,304.0 L68.4,303.8 L68.9,303.6 L69.4,303.4 L69.9,303.1 L70.4,302.5 L70.9,302.0 L71.4,301.4 L71.9,300.7 L72.4,300.0 L72.9,299.6 L73.4,299.4 L73.9,299.0 L74.4,298.6 L74.9,298.4 L75.4,297.9 L75.9,297.4 L76.4,297.3 L76.9,297.0 L77.4,296.6 L77.9,296.6 L78.4,296.4 L78.9,296.2 L79.4,296.0 L79.9,295.5 L80.4,295.3 L80.9,295.5 L81.4,295.5 L81.9,295.3 L82.4,295.1 L82.9,295.1 L83.4,295.4 L83.9,295.5 L84.4,295.4 L84.9,295.4 L85.4,295.9 L85.9,296.3 L86.4,296.5 L86.9,297.1 L87.4,297.3 L87.9,297.4 L88.4,297.6 L88.9,298.0 L89.4,298.1 L89.9,298.2 L90.4,298.7 L90.9,299.2 L91.4,299.7 L91.9,300.2 L92.4,300.7 L92.9,301.3 L93.4,301.7 L93.9,302.1 L94.4,302.6 L94.9,303.4 L95.4,303.7 L95.9,303.6 L96.4,303.9 L96.9,304.5 L97.4,304.8 L97.9,305.2 L98.4,305.6 L98.9,305.8 L99.4,305.9 L99.9,306.1 L100.4,306.3 L100.9,306.7 L101.4,307.1 L101.9,307.1 L102.4,307.1 L102.9,307.2 L103.4,307.2 L103.9,307.1 L104.4,307.4 L104.9,307.7 L105.4,307.8 L105.9,307.9 L106.4,307.9 L106.9,307.9 L107.4,308.1 L107.9,308.5 L108.4,308.6 L108.9,308.5 L109.4,308.3 L109.9,308.3 L110.4,308.6 L110.9,308.8 L111.4,308.9 L111.9,309.0 L112.4,309.0 L112.9,308.8 L113.4,308.7 L113.9,309.0 L114.4,309.2 L114.9,309.2 L115.4,309.3 L115.9,309.1 L116.4,308.9 L116.9,308.9 L117.4,308.8 L117.9,308.9 L118.4,309.0 L118.9,309.2 L119.4,309.2 L119.9,309.2 L120.4,309.4 L120.9,309.6 L121.4,309.6 L121.9,309.5 L122.4,309.4 L122.9,309.5 L123.4,309.5 L123.9,309.3 L124.4,309.1 L124.9,309.3 L125.4,309.6 L125.9,309.7 L126.4,309.6 L126.9,309.5 L127.4,309.1 L127.9,308.9 L128.4,308.9 L128.9,308.6 L129.4,308.2 L129.9,308.1 L130.4,308.0 L130.9,307.6 L131.4,307.3 L131.9,307.0 L132.4,306.4 L132.9,305.8 L133.4,305.6 L133.9,305.3 L134.4,304.5 L134.9,303.7 L135.4,303.3 L135.9,302.8 L136.4,301.7 L136.9,300.3 L137.4,298.8 L137.9,297.5 L138.4,296.3 L138.9,294.6 L139.4,292.9 L139.9,291.7 L140.4,290.4 L140.9,289.1 L141.4,288.0 L141.9,287.2 L142.4,286.6 L142.9,285.8 L143.4,285.0 L143.9,284.7 L144.4,284.9 L144.9,285.6 L145.4,286.8 L145.9,288.0 L146.4,289.1 L146.9,291.0 L147.4,293.7 L147.9,296.2 L148.4,298.2 L148.9,300.2 L149.4,302.5 L149.9,304.6 L150.4,306.4 L150.9,307.9 L151.4,309.1 L151.9,310.1 L152.4,311.2 L152.9,312.5" fill="none" stroke="#000000" stroke-width="1.7" stroke-linejoin="round" stroke-linecap="round"/>
<line x1="52.20" y1="238.75" x2="52.20" y2="313.25" stroke="#000" stroke-width="1.5"/>
<line x1="47.80" y1="312.50" x2="162.20" y2="312.50" stroke="#000" stroke-width="1.5"/>
<line x1="47.80" y1="312.50" x2="52.20" y2="312.50" stroke="#000" stroke-width="1.5"/>
<text x="38.60" y="316.80" font-size="11.5" font-weight="normal">0</text>
<line x1="47.80" y1="294.25" x2="52.20" y2="294.25" stroke="#000" stroke-width="1.5"/>
<path transform="translate(32.21,298.55) scale(0.00562,-0.00562)" d="M583,0 L583,1141 Q480,1045 223,925 L223,1096 Q390,1170 530,1300 Q600,1370 650,1409 L763,1409 L763,0 Z"/>
<text x="38.60" y="298.55" font-size="11.5" font-weight="normal">0</text>
<line x1="47.80" y1="276.00" x2="52.20" y2="276.00" stroke="#000" stroke-width="1.5"/>
<text x="32.21 38.60" y="280.30" font-size="11.5" font-weight="normal">20</text>
<line x1="47.80" y1="257.75" x2="52.20" y2="257.75" stroke="#000" stroke-width="1.5"/>
<text x="32.21 38.60" y="262.05" font-size="11.5" font-weight="normal">30</text>
<line x1="47.80" y1="239.50" x2="52.20" y2="239.50" stroke="#000" stroke-width="1.5"/>
<text x="32.21 38.60" y="243.80" font-size="11.5" font-weight="normal">40</text>
<line x1="52.20" y1="312.50" x2="52.20" y2="316.30" stroke="#000" stroke-width="1.5"/>
<text x="45.80 52.20" y="331.50" font-size="11.5" font-weight="normal">60</text>
<line x1="102.00" y1="312.50" x2="102.00" y2="316.30" stroke="#000" stroke-width="1.5"/>
<text x="95.60 102.00" y="331.50" font-size="11.5" font-weight="normal">70</text>
<line x1="151.80" y1="312.50" x2="151.80" y2="316.30" stroke="#000" stroke-width="1.5"/>
<text x="145.40 151.80" y="331.50" font-size="11.5" font-weight="normal">80</text>
<text x="67.20" y="351.70" font-size="11.6" font-weight="normal" text-anchor="start" textLength="82.0" lengthAdjust="spacingAndGlyphs">Temperature (°C)</text>
<text transform="translate(23.4,281.00) rotate(-90)" font-size="11.5" text-anchor="middle" textLength="97.6" lengthAdjust="spacingAndGlyphs">-d(Helicity)/d(Temp)</text>
<text x="203.90" y="203.90" font-size="12.6" font-weight="bold" text-anchor="start" textLength="44.4" lengthAdjust="spacingAndGlyphs" stroke="#000" stroke-width="0.25">Copy #</text>
<line x1="203.10" y1="206.20" x2="248.90" y2="206.20" stroke="#000" stroke-width="1.3"/>
<line x1="182.78" y1="215.90" x2="196.70" y2="215.90" stroke="#000000" stroke-width="2.0"/>
<text x="203.60 211.11 218.62 226.12 233.63" y="220.20" font-size="13.5" font-weight="normal">39000</text>
<line x1="182.78" y1="232.07" x2="196.70" y2="232.07" stroke="#f41e28" stroke-width="2.0"/>
<text x="203.60 211.11 218.62 226.12" y="236.37" font-size="13.5" font-weight="normal">9750</text>
<line x1="182.78" y1="248.24" x2="196.70" y2="248.24" stroke="#ff8200" stroke-width="2.0"/>
<text x="203.60 211.11 218.62 226.12" y="252.54" font-size="13.5" font-weight="normal">2437</text>
<line x1="182.78" y1="264.41" x2="196.70" y2="264.41" stroke="#0096b0" stroke-width="2.0"/>
<text x="203.60 211.11 218.62" y="268.71" font-size="13.5" font-weight="normal">609</text>
<line x1="182.78" y1="280.58" x2="196.70" y2="280.58" stroke="#a400e4" stroke-width="2.0"/>
<path transform="translate(203.60,284.88) scale(0.00659,-0.00659)" d="M583,0 L583,1141 Q480,1045 223,925 L223,1096 Q390,1170 530,1300 Q600,1370 650,1409 L763,1409 L763,0 Z"/>
<text x="211.11 218.62" y="284.88" font-size="13.5" font-weight="normal">52</text>
<line x1="182.78" y1="296.75" x2="196.70" y2="296.75" stroke="#f5006e" stroke-width="2.0"/>
<text x="203.60 211.11" y="301.05" font-size="13.5" font-weight="normal">38</text>
<line x1="182.78" y1="312.92" x2="196.70" y2="312.92" stroke="#0000f0" stroke-width="2.0"/>
<text x="203.60" y="317.22" font-size="13.5" font-weight="normal">9</text>
<text x="4.90" y="398.00" font-size="17.3" font-weight="bold" text-anchor="start" stroke="#000" stroke-width="0.4">E</text>
<text x="67.40 75.60 84.53 88.97 97.17 105.37 113.56 122.50 130.69 138.89" y="407.60" font-size="13.5" font-weight="bold" stroke="#000" stroke-width="0.35">spike_L452</text>
<path d="M70.0,502.7 L70.5,502.7 L71.0,502.5 L71.5,502.0 L72.0,501.7 L72.5,501.5 L73.0,501.3 L73.5,501.0 L74.0,500.5 L74.5,500.1 L75.0,499.9 L75.5,499.5 L76.0,499.1 L76.5,498.6 L77.0,498.2 L77.5,497.9 L78.0,497.5 L78.5,496.9 L79.0,496.4 L79.5,495.9 L80.0,495.2 L80.5,494.6 L81.0,494.1 L81.5,493.3 L82.0,492.4 L82.5,491.8 L83.0,491.3 L83.5,490.6 L84.0,490.2 L84.5,490.1 L85.0,489.8 L85.5,489.3 L86.0,488.9 L86.5,488.7 L87.0,488.4 L87.5,488.1 L88.0,488.1 L88.5,488.0 L89.0,487.8 L89.5,487.8 L90.0,488.1 L90.5,488.4 L91.0,488.6 L91.5,488.6 L92.0,488.7 L92.5,489.0 L93.0,489.3 L93.5,489.8 L94.0,490.3 L94.5,490.7 L95.0,491.3 L95.5,491.8 L96.0,492.2 L96.5,492.7 L97.0,493.2 L97.5,493.6 L98.0,494.4 L98.5,494.9 L99.0,495.2 L99.5,495.7 L100.0,496.2 L100.5,496.6 L101.0,496.9 L101.5,497.2 L102.0,497.5 L102.5,497.7 L103.0,498.0 L103.5,498.3 L104.0,498.5 L104.5,498.8 L105.0,499.1 L105.5,499.3 L106.0,499.4 L106.5,499.6 L107.0,499.9 L107.5,499.8 L108.0,499.5 L108.5,499.6 L109.0,499.7 L109.5,499.5 L110.0,499.5 L110.5,499.6 L111.0,499.5 L111.5,499.7 L112.0,499.7 L112.5,499.4 L113.0,499.3 L113.5,499.4 L114.0,499.7 L114.5,500.0 L115.0,499.9 L115.5,499.4 L116.0,499.4 L116.5,499.8 L117.0,499.9 L117.5,499.7 L118.0,499.5 L118.5,499.6 L119.0,499.6 L119.5,499.5 L120.0,499.4 L120.5,499.5 L121.0,499.6 L121.5,499.5 L122.0,499.3 L122.5,499.2 L123.0,499.4 L123.5,499.6 L124.0,499.4 L124.5,499.3 L125.0,499.5 L125.5,499.7 L126.0,499.7 L126.5,499.5 L127.0,499.1 L127.5,499.1 L128.0,499.6 L128.5,499.7 L129.0,499.3 L129.5,499.1 L130.0,499.2 L130.5,499.1 L131.0,499.0 L131.5,499.1 L132.0,499.2 L132.5,499.2 L133.0,499.2 L133.5,498.9 L134.0,498.4 L134.5,497.6 L135.0,496.6 L135.5,495.2 L136.0,493.0 L136.5,490.0 L137.0,485.8 L137.5,480.5 L138.0,475.3 L138.5,469.8 L139.0,463.8 L139.5,458.9 L140.0,456.8 L140.5,457.9 L141.0,460.7 L141.5,464.7 L142.0,469.7 L142.5,475.0 L143.0,482.1 L143.5,489.8 L144.0,496.2 L144.5,502.3" fill="none" stroke="#0000f0" stroke-width="1.7" stroke-linejoin="round" stroke-linecap="round"/>
<path d="M72.8,502.6 L73.3,502.1 L73.8,501.5 L74.3,501.0 L74.8,500.5 L75.3,500.0 L75.8,499.6 L76.3,499.1 L76.8,498.7 L77.3,498.4 L77.8,498.0 L78.3,497.5 L78.8,497.0 L79.3,496.3 L79.8,495.7 L80.3,495.0 L80.8,494.2 L81.3,493.4 L81.8,492.6 L82.3,491.8 L82.8,491.1 L83.3,490.4 L83.8,489.7 L84.3,489.0 L84.8,488.3 L85.3,487.8 L85.8,487.5 L86.3,487.2 L86.8,487.0 L87.3,486.8 L87.8,486.7 L88.3,486.6 L88.8,486.6 L89.3,486.7 L89.8,486.9 L90.3,487.2 L90.8,487.5 L91.3,487.8 L91.8,488.1 L92.3,488.4 L92.8,488.8 L93.3,489.2 L93.8,489.7 L94.3,490.2 L94.8,490.7 L95.3,491.3 L95.8,491.8 L96.3,492.3 L96.8,492.9 L97.3,493.5 L97.8,494.2 L98.3,494.8 L98.8,495.4 L99.3,496.0 L99.8,496.4 L100.3,496.8 L100.8,497.2 L101.3,497.5 L101.8,497.8 L102.3,498.0 L102.8,498.2 L103.3,498.4 L103.8,498.6 L104.3,498.7 L104.8,498.9 L105.3,499.0 L105.8,499.1 L106.3,499.2 L106.8,499.2 L107.3,499.2 L107.8,499.2 L108.3,499.2 L108.8,499.2 L109.3,499.2 L109.8,499.1 L110.3,499.1 L110.8,499.1 L111.3,499.1 L111.8,499.0 L112.3,499.0 L112.8,499.0 L113.3,499.0 L113.8,498.9 L114.3,498.9 L114.8,498.9 L115.3,498.9 L115.8,498.9 L116.3,498.9 L116.8,498.8 L117.3,498.8 L117.8,498.8 L118.3,498.8 L118.8,498.8 L119.3,498.8 L119.8,498.7 L120.3,498.7 L120.8,498.7 L121.3,498.7 L121.8,498.7 L122.3,498.7 L122.8,498.7 L123.3,498.6 L123.8,498.6 L124.3,498.6 L124.8,498.6 L125.3,498.6 L125.8,498.6 L126.3,498.6 L126.8,498.6 L127.3,498.6 L127.8,498.6 L128.3,498.6 L128.8,498.6 L129.3,498.6 L129.8,498.6 L130.3,498.6 L130.8,498.6 L131.3,498.6 L131.8,498.6 L132.3,498.6 L132.8,498.6 L133.3,498.6 L133.8,498.3 L134.3,497.9 L134.8,497.3 L135.3,496.4 L135.8,494.5 L136.3,492.1 L136.8,488.9 L137.3,484.5 L137.8,481.0 L138.3,477.8 L138.8,475.2 L139.3,473.6 L139.8,472.4 L140.3,472.0 L140.8,472.8 L141.3,474.3 L141.8,476.6 L142.3,480.6 L142.8,483.8 L143.3,486.5 L143.8,489.0 L144.3,491.2 L144.8,493.1 L145.3,494.8 L145.8,496.3 L146.3,497.6 L146.8,498.6 L147.3,499.4 L147.8,500.2 L148.3,500.8 L148.8,501.3 L149.3,501.7 L149.8,502.1 L150.3,502.4 L150.8,502.6" fill="none" stroke="#f5006e" stroke-width="1.7" stroke-linejoin="round" stroke-linecap="round"/>
<path d="M70.0,502.4 L70.5,502.3 L71.0,502.1 L71.5,501.9 L72.0,501.6 L72.5,501.4 L73.0,501.1 L73.5,500.7 L74.0,500.3 L74.5,499.9 L75.0,499.5 L75.5,499.1 L76.0,498.7 L76.5,498.3 L77.0,497.8 L77.5,497.4 L78.0,497.0 L78.5,496.5 L79.0,496.0 L79.5,495.5 L80.0,494.9 L80.5,494.3 L81.0,493.6 L81.5,492.8 L82.0,492.0 L82.5,491.2 L83.0,490.5 L83.5,489.9 L84.0,489.4 L84.5,488.9 L85.0,488.4 L85.5,488.0 L86.0,487.6 L86.5,487.3 L87.0,487.0 L87.5,486.8 L88.0,486.7 L88.5,486.6 L89.0,486.6 L89.5,486.7 L90.0,486.9 L90.5,487.2 L91.0,487.5 L91.5,487.7 L92.0,488.0 L92.5,488.3 L93.0,488.7 L93.5,489.0 L94.0,489.4 L94.5,489.9 L95.0,490.3 L95.5,490.8 L96.0,491.3 L96.5,491.8 L97.0,492.4 L97.5,493.1 L98.0,493.8 L98.5,494.4 L99.0,494.9 L99.5,495.3 L100.0,495.7 L100.5,496.1 L101.0,496.5 L101.5,496.9 L102.0,497.2 L102.5,497.5 L103.0,497.8 L103.5,498.0 L104.0,498.3 L104.5,498.6 L105.0,498.8 L105.5,499.0 L106.0,499.2 L106.5,499.3 L107.0,499.3 L107.5,499.3 L108.0,499.3 L108.5,499.3 L109.0,499.3 L109.5,499.3 L110.0,499.3 L110.5,499.3 L111.0,499.3 L111.5,499.2 L112.0,499.2 L112.5,499.2 L113.0,499.2 L113.5,499.2 L114.0,499.1 L114.5,499.1 L115.0,499.1 L115.5,499.1 L116.0,499.1 L116.5,499.0 L117.0,499.0 L117.5,499.0 L118.0,499.0 L118.5,499.0 L119.0,499.0 L119.5,498.9 L120.0,498.9 L120.5,498.9 L121.0,498.9 L121.5,498.9 L122.0,498.9 L122.5,498.9 L123.0,498.9 L123.5,498.9 L124.0,498.9 L124.5,498.9 L125.0,498.9 L125.5,498.9 L126.0,498.9 L126.5,498.8 L127.0,498.7 L127.5,498.6 L128.0,498.3 L128.5,497.9 L129.0,497.4 L129.5,496.9 L130.0,496.5 L130.5,496.2 L131.0,496.2 L131.5,496.4 L132.0,496.8 L132.5,497.3 L133.0,497.8 L133.5,498.0 L134.0,497.9 L134.5,497.5 L135.0,496.8 L135.5,495.4 L136.0,493.0 L136.5,489.9 L137.0,485.3 L137.5,480.0 L138.0,475.5 L138.5,471.2 L139.0,467.4 L139.5,464.3 L140.0,462.6 L140.5,463.0 L141.0,464.9 L141.5,467.8 L142.0,472.5 L142.5,478.5 L143.0,484.8 L143.5,491.4 L144.0,497.2 L144.5,502.5" fill="none" stroke="#a400e4" stroke-width="1.7" stroke-linejoin="round" stroke-linecap="round"/>
<path d="M66.4,499.8 L66.9,499.6 L67.4,499.5 L67.9,499.3 L68.4,499.1 L68.9,498.9 L69.4,498.8 L69.9,498.6 L70.4,498.4 L70.9,498.2 L71.4,498.0 L71.9,497.8 L72.4,497.6 L72.9,497.5 L73.4,497.3 L73.9,497.1 L74.4,496.9 L74.9,496.7 L75.4,496.5 L75.9,496.2 L76.4,496.0 L76.9,495.8 L77.4,495.5 L77.9,495.2 L78.4,494.9 L78.9,494.6 L79.4,494.3 L79.9,493.9 L80.4,493.4 L80.9,492.8 L81.4,492.1 L81.9,491.3 L82.4,490.5 L82.9,489.8 L83.4,489.1 L83.9,488.4 L84.4,487.7 L84.9,487.1 L85.4,486.7 L85.9,486.5 L86.4,486.5 L86.9,486.4 L87.4,486.3 L87.9,486.3 L88.4,486.3 L88.9,486.3 L89.4,486.4 L89.9,486.6 L90.4,486.8 L90.9,487.0 L91.4,487.3 L91.9,487.6 L92.4,487.8 L92.9,488.1 L93.4,488.5 L93.9,488.9 L94.4,489.3 L94.9,489.8 L95.4,490.2 L95.9,490.7 L96.4,491.2 L96.9,491.8 L97.4,492.5 L97.9,493.1 L98.4,493.7 L98.9,494.3 L99.4,494.8 L99.9,495.3 L100.4,495.8 L100.9,496.2 L101.4,496.6 L101.9,497.0 L102.4,497.4 L102.9,497.7 L103.4,498.1 L103.9,498.4 L104.4,498.7 L104.9,499.0 L105.4,499.3 L105.9,499.5 L106.4,499.7 L106.9,499.8 L107.4,499.8 L107.9,499.8 L108.4,499.9 L108.9,499.9 L109.4,499.9 L109.9,499.9 L110.4,499.9 L110.9,499.9 L111.4,499.9 L111.9,499.9 L112.4,500.0 L112.9,500.0 L113.4,500.0 L113.9,500.0 L114.4,500.0 L114.9,500.0 L115.4,500.0 L115.9,500.0 L116.4,500.0 L116.9,500.0 L117.4,500.0 L117.9,500.1 L118.4,500.1 L118.9,500.1 L119.4,500.1 L119.9,500.1 L120.4,500.1 L120.9,500.1 L121.4,500.1 L121.9,500.1 L122.4,500.1 L122.9,500.1 L123.4,500.1 L123.9,500.1 L124.4,500.1 L124.9,500.2 L125.4,500.2 L125.9,500.2 L126.4,500.2 L126.9,500.2 L127.4,500.2 L127.9,500.2 L128.4,500.2 L128.9,500.3 L129.4,500.3 L129.9,500.3 L130.4,500.3 L130.9,500.4 L131.4,500.4 L131.9,500.4 L132.4,500.4 L132.9,500.4 L133.4,500.3 L133.9,499.8 L134.4,499.1 L134.9,498.2 L135.4,496.7 L135.9,494.1 L136.4,490.7 L136.9,486.3 L137.4,480.9 L137.9,476.4 L138.4,472.1 L138.9,468.6 L139.4,465.7 L139.9,463.5 L140.4,463.2 L140.9,464.8 L141.4,467.4 L141.9,471.9 L142.4,478.7 L142.9,484.9 L143.4,490.9 L143.9,496.4 L144.4,501.5" fill="none" stroke="#0096b0" stroke-width="1.7" stroke-linejoin="round" stroke-linecap="round"/>
<path d="M73.0,500.9 L73.5,500.5 L74.0,500.1 L74.5,499.7 L75.0,499.3 L75.5,498.8 L76.0,498.4 L76.5,497.9 L77.0,497.5 L77.5,497.0 L78.0,496.6 L78.5,496.1 L79.0,495.6 L79.5,495.0 L80.0,494.4 L80.5,493.8 L81.0,493.0 L81.5,492.1 L82.0,491.2 L82.5,490.4 L83.0,489.6 L83.5,488.9 L84.0,488.2 L84.5,487.6 L85.0,487.1 L85.5,486.6 L86.0,486.3 L86.5,486.0 L87.0,485.8 L87.5,485.6 L88.0,485.4 L88.5,485.4 L89.0,485.5 L89.5,485.6 L90.0,485.8 L90.5,486.1 L91.0,486.4 L91.5,486.8 L92.0,487.1 L92.5,487.4 L93.0,487.8 L93.5,488.2 L94.0,488.6 L94.5,489.0 L95.0,489.5 L95.5,490.0 L96.0,490.5 L96.5,491.1 L97.0,491.8 L97.5,492.5 L98.0,493.2 L98.5,493.9 L99.0,494.4 L99.5,494.9 L100.0,495.4 L100.5,495.8 L101.0,496.3 L101.5,496.7 L102.0,497.0 L102.5,497.4 L103.0,497.7 L103.5,498.0 L104.0,498.3 L104.5,498.6 L105.0,498.9 L105.5,499.1 L106.0,499.3 L106.5,499.4 L107.0,499.5 L107.5,499.5 L108.0,499.5 L108.5,499.5 L109.0,499.5 L109.5,499.6 L110.0,499.6 L110.5,499.6 L111.0,499.6 L111.5,499.6 L112.0,499.6 L112.5,499.6 L113.0,499.6 L113.5,499.6 L114.0,499.6 L114.5,499.6 L115.0,499.6 L115.5,499.6 L116.0,499.6 L116.5,499.6 L117.0,499.6 L117.5,499.6 L118.0,499.6 L118.5,499.6 L119.0,499.6 L119.5,499.5 L120.0,499.5 L120.5,499.5 L121.0,499.5 L121.5,499.5 L122.0,499.5 L122.5,499.5 L123.0,499.4 L123.5,499.4 L124.0,499.4 L124.5,499.4 L125.0,499.4 L125.5,499.4 L126.0,499.3 L126.5,499.3 L127.0,499.3 L127.5,499.3 L128.0,499.3 L128.5,499.3 L129.0,499.2 L129.5,499.2 L130.0,499.2 L130.5,499.2 L131.0,499.2 L131.5,499.1 L132.0,499.1 L132.5,499.1 L133.0,499.0 L133.5,498.8 L134.0,498.4 L134.5,497.8 L135.0,497.0 L135.5,495.5 L136.0,493.1 L136.5,490.0 L137.0,485.3 L137.5,480.1 L138.0,476.0 L138.5,472.5 L139.0,470.2 L139.5,468.6 L140.0,467.4 L140.5,467.5 L141.0,468.5 L141.5,470.1 L142.0,474.2 L142.5,480.2 L143.0,486.1 L143.5,492.0 L144.0,497.4 L144.5,502.5" fill="none" stroke="#ff8200" stroke-width="1.6" stroke-linejoin="round" stroke-linecap="round"/>
<path d="M72.8,501.1 L73.3,500.9 L73.8,500.5 L74.3,500.1 L74.8,499.6 L75.3,498.9 L75.8,498.4 L76.3,498.0 L76.8,497.7 L77.3,497.4 L77.8,496.9 L78.3,496.3 L78.8,495.7 L79.3,495.2 L79.8,494.7 L80.3,494.3 L80.8,493.6 L81.3,492.7 L81.8,491.7 L82.3,490.9 L82.8,490.1 L83.3,489.3 L83.8,488.6 L84.3,487.9 L84.8,487.3 L85.3,486.9 L85.8,486.5 L86.3,486.3 L86.8,486.0 L87.3,485.7 L87.8,485.6 L88.3,485.5 L88.8,485.4 L89.3,485.5 L89.8,485.8 L90.3,486.1 L90.8,486.4 L91.3,486.7 L91.8,487.1 L92.3,487.6 L92.8,487.8 L93.3,488.1 L93.8,488.6 L94.3,489.0 L94.8,489.5 L95.3,490.0 L95.8,490.3 L96.3,490.7 L96.8,491.5 L97.3,492.3 L97.8,493.0 L98.3,493.7 L98.8,494.4 L99.3,494.8 L99.8,495.4 L100.3,496.0 L100.8,496.4 L101.3,496.8 L101.8,497.2 L102.3,497.5 L102.8,497.7 L103.3,497.9 L103.8,498.2 L104.3,498.3 L104.8,498.5 L105.3,498.9 L105.8,499.3 L106.3,499.4 L106.8,499.3 L107.3,499.2 L107.8,499.4 L108.3,499.5 L108.8,499.6 L109.3,499.7 L109.8,499.7 L110.3,499.7 L110.8,499.6 L111.3,499.4 L111.8,499.4 L112.3,499.6 L112.8,499.7 L113.3,499.7 L113.8,499.7 L114.3,499.7 L114.8,499.6 L115.3,499.4 L115.8,499.5 L116.3,499.6 L116.8,499.6 L117.3,499.5 L117.8,499.6 L118.3,499.6 L118.8,499.5 L119.3,499.6 L119.8,499.6 L120.3,499.5 L120.8,499.5 L121.3,499.5 L121.8,499.4 L122.3,499.3 L122.8,499.2 L123.3,499.3 L123.8,499.4 L124.3,499.3 L124.8,499.3 L125.3,499.3 L125.8,499.4 L126.3,499.4 L126.8,499.3 L127.3,499.3 L127.8,499.4 L128.3,499.5 L128.8,499.3 L129.3,499.2 L129.8,499.2 L130.3,499.3 L130.8,499.4 L131.3,499.3 L131.8,499.1 L132.3,499.0 L132.8,499.1 L133.3,499.0 L133.8,498.5 L134.3,497.9 L134.8,497.3 L135.3,496.4 L135.8,494.4 L136.3,491.3 L136.8,487.3 L137.3,481.9 L137.8,477.4 L138.3,473.9 L138.8,471.5 L139.3,469.9 L139.8,468.6 L140.3,468.2 L140.8,468.8 L141.3,470.0 L141.8,472.4 L142.3,477.9 L142.8,483.7 L143.3,489.7 L143.8,495.3 L144.3,500.5" fill="none" stroke="#f41e28" stroke-width="1.6" stroke-linejoin="round" stroke-linecap="round"/>
<path d="M66.0,502.6 L66.5,502.4 L67.0,502.5 L67.5,502.6 L68.0,502.6 L68.5,502.6 L69.0,502.6 L69.5,502.4 L70.0,502.2 L70.5,502.1 L71.0,501.9 L71.5,501.6 L72.0,501.4 L72.5,501.2 L73.0,500.9 L73.5,500.4 L74.0,499.9 L74.5,499.5 L75.0,499.2 L75.5,498.8 L76.0,498.3 L76.5,498.0 L77.0,497.6 L77.5,497.1 L78.0,496.6 L78.5,496.0 L79.0,495.4 L79.5,494.8 L80.0,494.1 L80.5,493.5 L81.0,492.8 L81.5,491.8 L82.0,490.7 L82.5,489.8 L83.0,489.1 L83.5,488.5 L84.0,487.8 L84.5,486.9 L85.0,486.3 L85.5,485.9 L86.0,485.5 L86.5,485.2 L87.0,485.1 L87.5,485.0 L88.0,484.9 L88.5,484.9 L89.0,484.9 L89.5,485.0 L90.0,485.4 L90.5,485.8 L91.0,486.0 L91.5,486.3 L92.0,486.7 L92.5,487.1 L93.0,487.5 L93.5,487.9 L94.0,488.3 L94.5,488.8 L95.0,489.2 L95.5,489.6 L96.0,490.2 L96.5,490.8 L97.0,491.4 L97.5,492.2 L98.0,493.0 L98.5,493.8 L99.0,494.2 L99.5,494.4 L100.0,494.9 L100.5,495.5 L101.0,495.9 L101.5,496.5 L102.0,497.1 L102.5,497.3 L103.0,497.5 L103.5,498.0 L104.0,498.3 L104.5,498.5 L105.0,498.8 L105.5,499.1 L106.0,499.2 L106.5,499.2 L107.0,499.3 L107.5,499.6 L108.0,499.6 L108.5,499.5 L109.0,499.4 L109.5,499.4 L110.0,499.4 L110.5,499.6 L111.0,499.7 L111.5,499.7 L112.0,499.7 L112.5,499.6 L113.0,499.7 L113.5,499.7 L114.0,499.5 L114.5,499.5 L115.0,499.6 L115.5,499.7 L116.0,499.8 L116.5,499.7 L117.0,499.5 L117.5,499.4 L118.0,499.4 L118.5,499.5 L119.0,499.7 L119.5,499.5 L120.0,499.5 L120.5,499.5 L121.0,499.6 L121.5,499.6 L122.0,499.5 L122.5,499.5 L123.0,499.5 L123.5,499.3 L124.0,499.2 L124.5,499.3 L125.0,499.4 L125.5,499.3 L126.0,499.2 L126.5,499.3 L127.0,499.5 L127.5,499.4 L128.0,499.4 L128.5,499.3 L129.0,499.2 L129.5,499.1 L130.0,499.1 L130.5,499.0 L131.0,499.1 L131.5,499.3 L132.0,499.3 L132.5,499.1 L133.0,498.9 L133.5,498.8 L134.0,498.4 L134.5,497.8 L135.0,497.0 L135.5,495.4 L136.0,493.1 L136.5,490.2 L137.0,485.4 L137.5,480.1 L138.0,475.9 L138.5,472.1 L139.0,469.2 L139.5,466.7 L140.0,464.9 L140.5,465.1 L141.0,466.6 L141.5,469.0 L142.0,473.7 L142.5,480.0 L143.0,486.0 L143.5,492.1 L144.0,497.8 L144.5,502.6" fill="none" stroke="#000000" stroke-width="1.7" stroke-linejoin="round" stroke-linecap="round"/>
<line x1="52.20" y1="428.75" x2="52.20" y2="503.25" stroke="#000" stroke-width="1.5"/>
<line x1="47.80" y1="502.50" x2="162.20" y2="502.50" stroke="#000" stroke-width="1.5"/>
<line x1="47.80" y1="502.50" x2="52.20" y2="502.50" stroke="#000" stroke-width="1.5"/>
<text x="38.60" y="506.80" font-size="11.5" font-weight="normal">0</text>
<line x1="47.80" y1="484.25" x2="52.20" y2="484.25" stroke="#000" stroke-width="1.5"/>
<path transform="translate(32.21,488.55) scale(0.00562,-0.00562)" d="M583,0 L583,1141 Q480,1045 223,925 L223,1096 Q390,1170 530,1300 Q600,1370 650,1409 L763,1409 L763,0 Z"/>
<text x="38.60" y="488.55" font-size="11.5" font-weight="normal">0</text>
<line x1="47.80" y1="466.00" x2="52.20" y2="466.00" stroke="#000" stroke-width="1.5"/>
<text x="32.21 38.60" y="470.30" font-size="11.5" font-weight="normal">20</text>
<line x1="47.80" y1="447.75" x2="52.20" y2="447.75" stroke="#000" stroke-width="1.5"/>
<text x="32.21 38.60" y="452.05" font-size="11.5" font-weight="normal">30</text>
<line x1="47.80" y1="429.50" x2="52.20" y2="429.50" stroke="#000" stroke-width="1.5"/>
<text x="32.21 38.60" y="433.80" font-size="11.5" font-weight="normal">40</text>
<line x1="52.20" y1="502.50" x2="52.20" y2="506.30" stroke="#000" stroke-width="1.5"/>
<text x="45.80 52.20" y="521.50" font-size="11.5" font-weight="normal">50</text>
<line x1="86.40" y1="502.50" x2="86.40" y2="506.30" stroke="#000" stroke-width="1.5"/>
<text x="80.00 86.40" y="521.50" font-size="11.5" font-weight="normal">60</text>
<line x1="120.50" y1="502.50" x2="120.50" y2="506.30" stroke="#000" stroke-width="1.5"/>
<text x="114.10 120.50" y="521.50" font-size="11.5" font-weight="normal">70</text>
<line x1="154.70" y1="502.50" x2="154.70" y2="506.30" stroke="#000" stroke-width="1.5"/>
<text x="148.30 154.70" y="521.50" font-size="11.5" font-weight="normal">80</text>
<text x="67.20" y="542.20" font-size="11.6" font-weight="normal" text-anchor="start" textLength="82.0" lengthAdjust="spacingAndGlyphs">Temperature (°C)</text>
<text transform="translate(23.4,471.30) rotate(-90)" font-size="11.5" text-anchor="middle" textLength="97.6" lengthAdjust="spacingAndGlyphs">-d(Helicity)/d(Temp)</text>
<text x="203.90" y="394.40" font-size="12.6" font-weight="bold" text-anchor="start" textLength="44.4" lengthAdjust="spacingAndGlyphs" stroke="#000" stroke-width="0.25">Copy #</text>
<line x1="203.10" y1="396.70" x2="248.90" y2="396.70" stroke="#000" stroke-width="1.3"/>
<line x1="182.78" y1="405.90" x2="196.70" y2="405.90" stroke="#000000" stroke-width="2.0"/>
<text x="203.60 211.11 218.62 226.12 233.63" y="410.20" font-size="13.5" font-weight="normal">39000</text>
<line x1="182.78" y1="422.07" x2="196.70" y2="422.07" stroke="#f41e28" stroke-width="2.0"/>
<text x="203.60 211.11 218.62 226.12" y="426.37" font-size="13.5" font-weight="normal">9750</text>
<line x1="182.78" y1="438.24" x2="196.70" y2="438.24" stroke="#ff8200" stroke-width="2.0"/>
<text x="203.60 211.11 218.62 226.12" y="442.54" font-size="13.5" font-weight="normal">2437</text>
<line x1="182.78" y1="454.41" x2="196.70" y2="454.41" stroke="#0096b0" stroke-width="2.0"/>
<text x="203.60 211.11 218.62" y="458.71" font-size="13.5" font-weight="normal">609</text>
<line x1="182.78" y1="470.58" x2="196.70" y2="470.58" stroke="#a400e4" stroke-width="2.0"/>
<path transform="translate(203.60,474.88) scale(0.00659,-0.00659)" d="M583,0 L583,1141 Q480,1045 223,925 L223,1096 Q390,1170 530,1300 Q600,1370 650,1409 L763,1409 L763,0 Z"/>
<text x="211.11 218.62" y="474.88" font-size="13.5" font-weight="normal">52</text>
<line x1="182.78" y1="486.75" x2="196.70" y2="486.75" stroke="#f5006e" stroke-width="2.0"/>
<text x="203.60 211.11" y="491.05" font-size="13.5" font-weight="normal">38</text>
<line x1="182.78" y1="502.92" x2="196.70" y2="502.92" stroke="#0000f0" stroke-width="2.0"/>
<text x="203.60" y="507.22" font-size="13.5" font-weight="normal">9</text>
<path d="M147.5,502.4 L152.5,502.4" stroke="#ff8200" stroke-width="1.6" fill="none"/>
<text x="299.20" y="17.90" font-size="17.3" font-weight="bold" text-anchor="start" stroke="#000" stroke-width="0.4">B</text>
<text x="353.80 362.12 371.18 375.74 384.06 392.38 400.70 411.21 419.53 427.85 436.17 444.49" y="27.20" font-size="13.5" font-weight="bold" stroke="#000" stroke-width="0.35">spike_Δ69–70</text>
<line x1="348.60" y1="47.85" x2="348.60" y2="122.25" stroke="#000" stroke-width="1.5"/>
<line x1="344.60" y1="121.50" x2="458.75" y2="121.50" stroke="#000" stroke-width="1.5"/>
<line x1="344.40" y1="121.50" x2="348.60" y2="121.50" stroke="#000" stroke-width="1.5"/>
<text x="328.91 335.30" y="126.00" font-size="11.5" font-weight="normal">30</text>
<line x1="344.40" y1="103.28" x2="348.60" y2="103.28" stroke="#000" stroke-width="1.5"/>
<text x="328.91 335.30" y="107.78" font-size="11.5" font-weight="normal">35</text>
<line x1="344.40" y1="85.05" x2="348.60" y2="85.05" stroke="#000" stroke-width="1.5"/>
<text x="328.91 335.30" y="89.55" font-size="11.5" font-weight="normal">40</text>
<line x1="344.40" y1="66.82" x2="348.60" y2="66.82" stroke="#000" stroke-width="1.5"/>
<text x="328.91 335.30" y="71.32" font-size="11.5" font-weight="normal">45</text>
<line x1="344.40" y1="48.60" x2="348.60" y2="48.60" stroke="#000" stroke-width="1.5"/>
<text x="328.91 335.30" y="53.10" font-size="11.5" font-weight="normal">50</text>
<line x1="348.60" y1="121.50" x2="348.60" y2="125.00" stroke="#000" stroke-width="1.5"/>
<text x="345.40" y="140.70" font-size="11.5" font-weight="normal">0</text>
<line x1="370.48" y1="121.50" x2="370.48" y2="125.00" stroke="#000" stroke-width="1.5"/>
<path transform="translate(367.28,140.70) scale(0.00562,-0.00562)" d="M583,0 L583,1141 Q480,1045 223,925 L223,1096 Q390,1170 530,1300 Q600,1370 650,1409 L763,1409 L763,0 Z"/>
<line x1="392.36" y1="121.50" x2="392.36" y2="125.00" stroke="#000" stroke-width="1.5"/>
<text x="389.16" y="140.70" font-size="11.5" font-weight="normal">2</text>
<line x1="414.24" y1="121.50" x2="414.24" y2="125.00" stroke="#000" stroke-width="1.5"/>
<text x="411.04" y="140.70" font-size="11.5" font-weight="normal">3</text>
<line x1="436.12" y1="121.50" x2="436.12" y2="125.00" stroke="#000" stroke-width="1.5"/>
<text x="432.92" y="140.70" font-size="11.5" font-weight="normal">4</text>
<line x1="458.00" y1="121.50" x2="458.00" y2="125.00" stroke="#000" stroke-width="1.5"/>
<text x="454.80" y="140.70" font-size="11.5" font-weight="normal">5</text>
<line x1="370.00" y1="53.40" x2="448.60" y2="113.00" stroke="#000" stroke-width="1.5"/>
<circle cx="369.80" cy="58.20" r="1.7" fill="#000"/>
<circle cx="383.00" cy="59.60" r="1.7" fill="#000"/>
<circle cx="396.40" cy="72.20" r="1.7" fill="#000"/>
<circle cx="409.30" cy="82.00" r="1.7" fill="#000"/>
<circle cx="423.00" cy="92.00" r="1.7" fill="#000"/>
<circle cx="435.80" cy="104.30" r="1.7" fill="#000"/>
<circle cx="449.00" cy="115.20" r="1.7" fill="#000"/>
<text x="405.80" y="58.40" font-size="13" font-weight="normal" text-anchor="start" textLength="34.4" lengthAdjust="spacingAndGlyphs">slope</text>
<text x="444.40" y="58.40" font-size="13" font-weight="normal" text-anchor="start" textLength="9.0" lengthAdjust="spacingAndGlyphs">=</text>
<text x="458.60 463.06 470.51 474.24 481.69 489.14" y="58.40" font-size="13.4" font-weight="normal">-4.556</text>
<text x="345.00" y="161.90" font-size="11.5" font-weight="normal" text-anchor="start" textLength="116.0" lengthAdjust="spacingAndGlyphs">log[Genome Equivelents]</text>
<text transform="translate(316.5,91.50) rotate(-90)" font-size="12" text-anchor="middle">C<tspan font-size="8.5" dy="2.6" stroke="#000" stroke-width="0.2">t</tspan></text>
<text x="299.20" y="208.40" font-size="17.3" font-weight="bold" text-anchor="start" stroke="#000" stroke-width="0.4">D</text>
<path transform="translate(427.71,217.70) scale(0.00659,-0.00659)" d="M521,0 L521,1012 Q380,900 137,812 L137,1055 Q330,1130 470,1260 Q560,1340 590,1409 L802,1409 L802,0 Z" stroke="#000" stroke-width="0.35"/>
<text x="363.00 371.19 380.11 384.54 392.72 400.91 409.09 419.52 435.89" y="217.70" font-size="13.5" font-weight="bold" stroke="#000" stroke-width="0.35">spike_K47</text>
<line x1="349.30" y1="238.75" x2="349.30" y2="312.95" stroke="#000" stroke-width="1.5"/>
<line x1="345.30" y1="312.20" x2="459.45" y2="312.20" stroke="#000" stroke-width="1.5"/>
<line x1="345.10" y1="312.20" x2="349.30" y2="312.20" stroke="#000" stroke-width="1.5"/>
<text x="329.61 336.00" y="316.70" font-size="11.5" font-weight="normal">25</text>
<line x1="345.10" y1="294.02" x2="349.30" y2="294.02" stroke="#000" stroke-width="1.5"/>
<text x="329.61 336.00" y="298.52" font-size="11.5" font-weight="normal">30</text>
<line x1="345.10" y1="275.85" x2="349.30" y2="275.85" stroke="#000" stroke-width="1.5"/>
<text x="329.61 336.00" y="280.35" font-size="11.5" font-weight="normal">35</text>
<line x1="345.10" y1="257.68" x2="349.30" y2="257.68" stroke="#000" stroke-width="1.5"/>
<text x="329.61 336.00" y="262.18" font-size="11.5" font-weight="normal">40</text>
<line x1="345.10" y1="239.50" x2="349.30" y2="239.50" stroke="#000" stroke-width="1.5"/>
<text x="329.61 336.00" y="244.00" font-size="11.5" font-weight="normal">45</text>
<line x1="349.30" y1="312.20" x2="349.30" y2="315.70" stroke="#000" stroke-width="1.5"/>
<text x="346.10" y="331.40" font-size="11.5" font-weight="normal">0</text>
<line x1="371.18" y1="312.20" x2="371.18" y2="315.70" stroke="#000" stroke-width="1.5"/>
<path transform="translate(367.98,331.40) scale(0.00562,-0.00562)" d="M583,0 L583,1141 Q480,1045 223,925 L223,1096 Q390,1170 530,1300 Q600,1370 650,1409 L763,1409 L763,0 Z"/>
<line x1="393.06" y1="312.20" x2="393.06" y2="315.70" stroke="#000" stroke-width="1.5"/>
<text x="389.86" y="331.40" font-size="11.5" font-weight="normal">2</text>
<line x1="414.94" y1="312.20" x2="414.94" y2="315.70" stroke="#000" stroke-width="1.5"/>
<text x="411.74" y="331.40" font-size="11.5" font-weight="normal">3</text>
<line x1="436.82" y1="312.20" x2="436.82" y2="315.70" stroke="#000" stroke-width="1.5"/>
<text x="433.62" y="331.40" font-size="11.5" font-weight="normal">4</text>
<line x1="458.70" y1="312.20" x2="458.70" y2="315.70" stroke="#000" stroke-width="1.5"/>
<text x="455.50" y="331.40" font-size="11.5" font-weight="normal">5</text>
<line x1="370.60" y1="250.20" x2="449.80" y2="305.20" stroke="#000" stroke-width="1.5"/>
<circle cx="370.60" cy="250.20" r="1.7" fill="#000"/>
<circle cx="383.60" cy="261.20" r="1.7" fill="#000"/>
<circle cx="396.80" cy="267.20" r="1.7" fill="#000"/>
<circle cx="410.20" cy="276.80" r="1.7" fill="#000"/>
<circle cx="423.50" cy="286.80" r="1.7" fill="#000"/>
<circle cx="436.20" cy="296.50" r="1.7" fill="#000"/>
<circle cx="449.80" cy="305.20" r="1.7" fill="#000"/>
<text x="405.80" y="248.40" font-size="13" font-weight="normal" text-anchor="start" textLength="34.4" lengthAdjust="spacingAndGlyphs">slope</text>
<text x="444.40" y="248.40" font-size="13" font-weight="normal" text-anchor="start" textLength="9.0" lengthAdjust="spacingAndGlyphs">=</text>
<path transform="translate(474.24,248.40) scale(0.00654,-0.00654)" d="M583,0 L583,1141 Q480,1045 223,925 L223,1096 Q390,1170 530,1300 Q600,1370 650,1409 L763,1409 L763,0 Z"/>
<text x="458.60 463.06 470.51 481.69 489.14" y="248.40" font-size="13.4" font-weight="normal">-4.27</text>
<text x="345.00" y="352.40" font-size="11.5" font-weight="normal" text-anchor="start" textLength="116.0" lengthAdjust="spacingAndGlyphs">log[Genome Equivelents]</text>
<text transform="translate(316.5,282.40) rotate(-90)" font-size="12" text-anchor="middle">C<tspan font-size="8.5" dy="2.6" stroke="#000" stroke-width="0.2">t</tspan></text>
<text x="299.20" y="398.40" font-size="17.3" font-weight="bold" text-anchor="start" stroke="#000" stroke-width="0.4">F</text>
<text x="363.80 372.06 381.07 385.57 393.84 402.10 410.36 419.36 427.63 435.89" y="407.70" font-size="13.5" font-weight="bold" stroke="#000" stroke-width="0.35">spike_L452</text>
<line x1="348.20" y1="427.95" x2="348.20" y2="502.35" stroke="#000" stroke-width="1.5"/>
<line x1="344.20" y1="501.60" x2="458.35" y2="501.60" stroke="#000" stroke-width="1.5"/>
<line x1="344.00" y1="501.60" x2="348.20" y2="501.60" stroke="#000" stroke-width="1.5"/>
<text x="328.51 334.90" y="506.10" font-size="11.5" font-weight="normal">25</text>
<line x1="344.00" y1="487.02" x2="348.20" y2="487.02" stroke="#000" stroke-width="1.5"/>
<text x="328.51 334.90" y="491.52" font-size="11.5" font-weight="normal">30</text>
<line x1="344.00" y1="472.44" x2="348.20" y2="472.44" stroke="#000" stroke-width="1.5"/>
<text x="328.51 334.90" y="476.94" font-size="11.5" font-weight="normal">35</text>
<line x1="344.00" y1="457.86" x2="348.20" y2="457.86" stroke="#000" stroke-width="1.5"/>
<text x="328.51 334.90" y="462.36" font-size="11.5" font-weight="normal">40</text>
<line x1="344.00" y1="443.28" x2="348.20" y2="443.28" stroke="#000" stroke-width="1.5"/>
<text x="328.51 334.90" y="447.78" font-size="11.5" font-weight="normal">45</text>
<line x1="344.00" y1="428.70" x2="348.20" y2="428.70" stroke="#000" stroke-width="1.5"/>
<text x="328.51 334.90" y="433.20" font-size="11.5" font-weight="normal">50</text>
<line x1="348.20" y1="501.60" x2="348.20" y2="505.10" stroke="#000" stroke-width="1.5"/>
<text x="345.00" y="520.80" font-size="11.5" font-weight="normal">0</text>
<line x1="370.08" y1="501.60" x2="370.08" y2="505.10" stroke="#000" stroke-width="1.5"/>
<path transform="translate(366.88,520.80) scale(0.00562,-0.00562)" d="M583,0 L583,1141 Q480,1045 223,925 L223,1096 Q390,1170 530,1300 Q600,1370 650,1409 L763,1409 L763,0 Z"/>
<line x1="391.96" y1="501.60" x2="391.96" y2="505.10" stroke="#000" stroke-width="1.5"/>
<text x="388.76" y="520.80" font-size="11.5" font-weight="normal">2</text>
<line x1="413.84" y1="501.60" x2="413.84" y2="505.10" stroke="#000" stroke-width="1.5"/>
<text x="410.64" y="520.80" font-size="11.5" font-weight="normal">3</text>
<line x1="435.72" y1="501.60" x2="435.72" y2="505.10" stroke="#000" stroke-width="1.5"/>
<text x="432.52" y="520.80" font-size="11.5" font-weight="normal">4</text>
<line x1="457.60" y1="501.60" x2="457.60" y2="505.10" stroke="#000" stroke-width="1.5"/>
<text x="454.40" y="520.80" font-size="11.5" font-weight="normal">5</text>
<line x1="370.50" y1="447.80" x2="448.00" y2="497.50" stroke="#000" stroke-width="1.5"/>
<circle cx="369.80" cy="441.50" r="1.7" fill="#000"/>
<circle cx="382.80" cy="461.80" r="1.7" fill="#000"/>
<circle cx="396.20" cy="466.50" r="1.7" fill="#000"/>
<circle cx="409.30" cy="473.50" r="1.7" fill="#000"/>
<circle cx="422.50" cy="481.80" r="1.7" fill="#000"/>
<circle cx="435.80" cy="489.50" r="1.7" fill="#000"/>
<circle cx="448.80" cy="495.80" r="1.7" fill="#000"/>
<text x="405.80" y="438.40" font-size="13" font-weight="normal" text-anchor="start" textLength="34.4" lengthAdjust="spacingAndGlyphs">slope</text>
<text x="444.40" y="438.40" font-size="13" font-weight="normal" text-anchor="start" textLength="9.0" lengthAdjust="spacingAndGlyphs">=</text>
<text x="458.60 463.06 470.51 474.24 481.69 489.14" y="438.40" font-size="13.4" font-weight="normal">-4.790</text>
<text x="345.00" y="542.40" font-size="11.5" font-weight="normal" text-anchor="start" textLength="116.0" lengthAdjust="spacingAndGlyphs">log[Genome Equivelents]</text>
<text transform="translate(316.5,471.50) rotate(-90)" font-size="12" text-anchor="middle">C<tspan font-size="8.5" dy="2.6" stroke="#000" stroke-width="0.2">t</tspan></text>
</svg></body></html>
